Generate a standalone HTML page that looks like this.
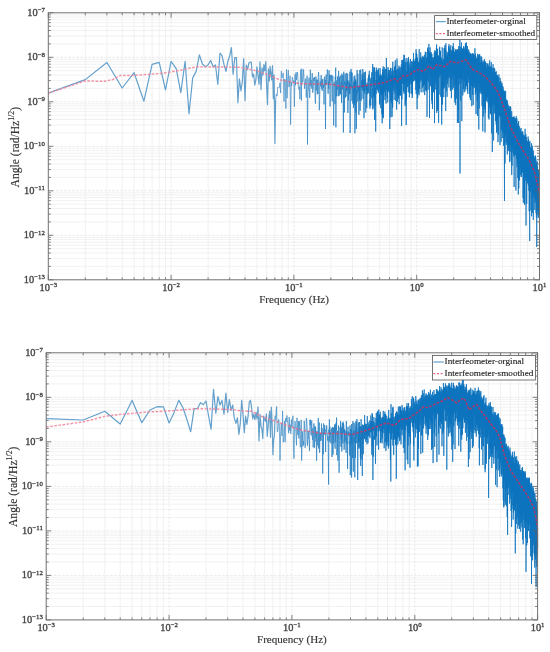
<!DOCTYPE html>
<html><head><meta charset="utf-8"><title>Interferometer spectra</title>
<style>
html,body{margin:0;padding:0;background:#fff;}
body{width:550px;height:652px;overflow:hidden;}
svg{display:block;}
.tk{font-family:"Liberation Serif",serif;font-size:10.4px;fill:#444;stroke:#444;stroke-width:0.35px;}
.sup{font-size:6.8px;}
.al{font-family:"Liberation Serif",serif;font-size:11px;fill:#333;stroke:#333;stroke-width:0.15px;}
.yl{font-size:11.6px;}
.sup2{font-size:7.8px;}
.lt{font-family:"Liberation Serif",serif;font-size:8.4px;fill:#222;stroke:#222;stroke-width:0.12px;}
.bl{fill:none;stroke:#64a0cc;stroke-width:1.2;stroke-linejoin:round;}
.bd{fill:none;stroke-width:0.75;stroke-linejoin:round;}
.rd{fill:none;stroke-opacity:0.9;stroke-width:1.45;stroke-dasharray:2.6 1.5;}
</style></head>
<body>
<svg width="550" height="652" viewBox="0 0 550 652">
<rect width="550" height="652" fill="#fff"/>
<rect x="48.3" y="12.8" width="491.2" height="267" fill="#fff"/>
<path d="M85.3 12.8V279.8M106.9 12.8V279.8M122.2 12.8V279.8M134.1 12.8V279.8M143.9 12.8V279.8M152.1 12.8V279.8M159.2 12.8V279.8M165.5 12.8V279.8M208.1 12.8V279.8M229.7 12.8V279.8M245 12.8V279.8M256.9 12.8V279.8M266.7 12.8V279.8M274.9 12.8V279.8M282 12.8V279.8M288.3 12.8V279.8M330.9 12.8V279.8M352.5 12.8V279.8M367.8 12.8V279.8M379.7 12.8V279.8M389.5 12.8V279.8M397.7 12.8V279.8M404.8 12.8V279.8M411.1 12.8V279.8M453.7 12.8V279.8M475.3 12.8V279.8M490.6 12.8V279.8M502.5 12.8V279.8M512.3 12.8V279.8M520.5 12.8V279.8M527.6 12.8V279.8M533.9 12.8V279.8M48.3 266.4H539.5M48.3 258.6H539.5M48.3 253H539.5M48.3 248.7H539.5M48.3 245.2H539.5M48.3 242.2H539.5M48.3 239.6H539.5M48.3 237.3H539.5M48.3 221.9H539.5M48.3 214.1H539.5M48.3 208.5H539.5M48.3 204.2H539.5M48.3 200.7H539.5M48.3 197.7H539.5M48.3 195.1H539.5M48.3 192.8H539.5M48.3 177.4H539.5M48.3 169.6H539.5M48.3 164H539.5M48.3 159.7H539.5M48.3 156.2H539.5M48.3 153.2H539.5M48.3 150.6H539.5M48.3 148.3H539.5M48.3 132.9H539.5M48.3 125.1H539.5M48.3 119.5H539.5M48.3 115.2H539.5M48.3 111.7H539.5M48.3 108.7H539.5M48.3 106.1H539.5M48.3 103.8H539.5M48.3 88.4H539.5M48.3 80.6H539.5M48.3 75H539.5M48.3 70.7H539.5M48.3 67.2H539.5M48.3 64.2H539.5M48.3 61.6H539.5M48.3 59.3H539.5M48.3 43.9H539.5M48.3 36.1H539.5M48.3 30.5H539.5M48.3 26.2H539.5M48.3 22.7H539.5M48.3 19.7H539.5M48.3 17.1H539.5M48.3 14.8H539.5" stroke="#eeeeee" stroke-width="0.8" fill="none"/>
<path d="M171.1 12.8V279.8M293.9 12.8V279.8M416.7 12.8V279.8M48.3 235.3H539.5M48.3 190.8H539.5M48.3 146.3H539.5M48.3 101.8H539.5M48.3 57.3H539.5" stroke="#e6e6e6" stroke-width="0.9" stroke-dasharray="2.5 1.5" fill="none"/>
<polyline class="bl" points="48.3,93.1 85.3,79.6 106.9,62.5 122.2,88 134.1,72.7 143.9,101.2 152.1,64.4 159.2,62.3 165.5,90 171.1,61.3 176.2,68.7 180.8,92.6 185.1,61.3 189,113.8 192.7,77.9 196.2,71.4 199.4,54.9 202.4,64 205.3,66.8 208.1,65 210.7,60.4 213.1,66.8 215.5,65 217.8,84.3 220,53 222.1,55.8 224.1,65 226,71.4 227.9,61.3 229.7,55.8 231.4,47.5 233.1,74.2 234.8,57.6 236.4,57.6 237.9,102.7 239.4,78.8 240.9,90.8 242.3,81.6 243.7,58.5 245,100.7 246.3,65 247.6,69.6 248.9,63.1 250.1,62.2 251.3,62.2 252.5,77 253.6,74.2 254.8,85.2 255.9,79.7 256.9,66.8 258,75.1 259,84.3 260,61.8 261,89.7 262,67.9 263,75.2 263.9,64.7 264.8,70.8 265.8,61.6 266.7,87.2 267.5,104.7 268.4,68.9 269.3,81 270.1,66.4 270.9,73.5 271.7,79.8 272.5,65.7 273.3,98.8 274.1,74.9 274.9,143.5 275.6,100.1"/>
<linearGradient id="gb0" gradientUnits="userSpaceOnUse" x1="280.3" y1="0" x2="378.3" y2="0"><stop offset="0" stop-color="#4a92c9"/><stop offset="1" stop-color="#0b72bd"/></linearGradient>
<polyline class="bd" stroke="url(#gb0)" points="275.6,100.1 276.4,93.9 277.1,95.9 277.8,87.2 278.6,88 279.3,87.3 280,82.9 280.6,93.1 281.3,71.1 282,78 282.7,74.2 283.3,72.9 284,101.7 284.6,79.2 285.2,79.2 285.9,108.6 286.5,69.3 287.1,98.2 287.7,80 288.3,70.2 288.9,87.1 289.5,85 290,75.8 290.6,124.6 291.2,82.4 291.7,85.9 292.3,77.1 292.8,79.5 293.4,82.3 293.9,80.5 294.4,106.7 295,74.5 295.5,85.3 296,72.3 296.5,80 297,73.5 297.5,72 298,79.7 298.5,88.7 299,89.6 299.5,86.8 299.9,99.2 300.4,75.4 300.9,69.4 301.4,100.6 301.8,68.7 302.3,80.5 302.7,82.3 303.2,77 303.6,69.5 304.1,80.2 304.5,88.6 304.9,83.4 305.4,80 305.8,78.6 306.2,97.4 306.6,92.8 307.1,75.7 307.5,144.5 307.9,92.1 308.3,90.7 308.7,82.3 309.1,77.6 309.5,97.9 309.9,96.8 310.3,69.7 310.7,86 311.1,79.8 311.5,84.4 311.8,88.6 312.2,73.1 312.6,92.7 313,91.7 313.3,89.1 313.7,77.9 314.1,81.4 314.4,77 314.8,81.1 315.2,100.9 315.5,103.7 315.9,76.5 316.2,90.4 316.6,79.6 316.9,81.1 317.3,94.3 317.6,79.7 318,93.9 318.3,75.6 318.6,72 319,79.9 319.3,110.3 319.6,101.6 320,83.6 320.3,81.5 320.6,86.3 320.9,79 321.2,75.1 321.6,88.8 321.9,79.6 322.2,90.8 322.5,81.3 322.8,78.9 323.1,82.4 323.4,87.7 323.7,85 324,104.4 324.4,76.9 324.7,76.6 325,85.5 325.2,79.9 325.5,129 325.8,89.4 326.1,74.6 326.4,84.4 326.7,84.2 327,75.8 327.3,69.5 327.6,73.6 327.8,79.3 328.1,93.8 328.4,81.6 328.7,88.7 329,70.3 329.2,83.2 329.5,74.8 329.8,78.8 330.1,106.4 330.3,76.5 330.6,77.1 330.9,74.8 331.1,80.6 331.4,75 331.7,83.4 331.9,85.2 332.2,101.4 332.4,78.7 332.7,75.7 333,76.8 333.2,93.8 333.5,106.8 333.7,125.6 334,82.1 334.2,82 334.5,82.3 334.7,84.2 335,104.1 335.2,76.9 335.5,79.6 335.7,67.6 335.9,127.4 336.2,80.4 336.4,96.3 336.7,88.6 336.9,86.1 337.1,90 337.4,76.4 337.6,83.9 337.9,83.1 338.1,96.2 338.3,83.8 338.6,70.9 338.8,75.4 339,96.1 339.2,89 339.5,76.9 339.7,94 339.9,90.1 340.1,86.7 340.4,89.4 340.6,94.4 340.8,75.4 341,89.6 341.3,82.2 341.5,102.7 341.7,74.5 341.9,73.5 342.1,77.9 342.3,87.3 342.6,89.3 342.8,75.2 343,94.1 343.2,106.1 343.4,132.4 343.6,73.4 343.8,71.7 344,97.2 344.2,95.6 344.4,112.4 344.7,81.1 344.9,84.9 345.1,73.7 345.3,97.7 345.5,94.8 345.7,88.5 345.9,82.9 346.1,96.5 346.3,72.9 346.5,91.1 346.7,82.2 346.9,88.2 347.1,90 347.3,79.5 347.5,83.8 347.7,73.6 347.9,112.9 348,82 348.2,89 348.4,100.5 348.6,93.8 348.8,80.6 349,83.2 349.2,93.8 349.4,86.5 349.6,83 349.8,93.4 349.9,71.6 350.1,133 350.3,92.9 350.5,83.5 350.7,85.8 350.9,87.4 351,68.9 351.2,82.4 351.4,71.9 351.6,82.2 351.8,91.6 352,101.1 352.1,72.7 352.3,86.9 352.5,85.9 352.7,93.1 352.8,103.6 353,88.1 353.2,86.9 353.4,92.8 353.5,107.9 353.7,81.7 353.9,95.1 354.1,76.6 354.2,105.2 354.4,82 354.6,103.3 354.8,75.5 354.9,133.3 355.1,92.6 355.3,83.2 355.4,91.8 355.6,79.4 355.8,112.6 355.9,90.2 356.1,81.4 356.3,128.9 356.4,90 356.6,95 356.8,93 356.9,89.3 357.1,69.9 357.2,101.7 357.4,89.5 357.6,89 357.7,92.2 357.9,73.8 358.1,88.3 358.2,85.8 358.4,86.9 358.5,89.7 358.7,87 358.9,114.8 359,89.4 359.2,88.8 359.3,100.5 359.5,87.1 359.6,98.8 359.8,70 359.9,86.3 360.1,110.8 360.3,102.4 360.4,90.7 360.6,84.5 360.7,69.5 360.9,73.5 361,80.2 361.2,100.7 361.3,87.2 361.5,83.6 361.6,87.2 361.8,80.2 361.9,88.1 362.1,74.3 362.2,83.9 362.4,87.5 362.5,78.1 362.7,90.6 362.8,69 362.9,96.5 363.1,98.8 363.2,84.8 363.4,79.7 363.5,90 363.7,90.6 363.8,73.2 364,118.2 364.1,98.9 364.2,72 364.4,74.4 364.5,87.2 364.7,93.8 364.8,82.8 365,79 365.1,90.6 365.2,79.6 365.4,86 365.5,71.6 365.7,90.5 365.8,112.6 365.9,99.7 366.1,93.7 366.2,85.9 366.3,87.7 366.5,86.8 366.6,92.8 366.8,108.2 366.9,92.9 367,82.5 367.2,94.5 367.3,88.3 367.4,90.7 367.6,92.4 367.7,84.4 367.8,90.2 368,85.7 368.1,78.2 368.2,80.2 368.4,93.3 368.5,88.2 368.6,86.3 368.8,74.7 368.9,81.1 369,76 369.1,79.1 369.3,70.9 369.4,86.2 369.5,86.3 369.7,105.8 369.8,99.5 369.9,108.6 370.1,108.3 370.2,78.7 370.3,95.7 370.4,89 370.6,84.5 370.7,89.8 370.8,105.4 370.9,87.7 371.1,77.5 371.2,86.8 371.3,86.3 371.4,81 371.6,78.8 371.7,72.2 371.8,98.3 371.9,86.8 372.1,85.2 372.2,85.6 372.3,78.1 372.4,77.3 372.6,76.9 372.7,64 372.8,109.5 372.9,88 373,108 373.2,85.2 373.3,67.3 373.4,85.9 373.5,93.9 373.6,97.2 373.8,77.3 373.9,82.4 374,71.7 374.1,70.2 374.2,95.9 374.4,96.7 374.5,67.4 374.6,119.9 374.7,87.1 374.8,83.9 374.9,78 375.1,71.7 375.2,105.5 375.3,87.8 375.4,90.4 375.5,89.2 375.6,88.6 375.7,131.5 375.9,93.6 376,80 376.1,94.1 376.2,74.1 376.3,67.6 376.4,87 376.5,89.1 376.7,70.8 376.8,88.7 376.9,80.6 377,89.1 377.1,79.8 377.2,71.4 377.3,69.8 377.4,74.8 377.6,77.7 377.7,81 377.8,90.5 377.9,89 378,87.5 378.1,87 378.2,72.2 378.3,93.1 378.4,68.4 378.5,90.9 378.7,83.6 378.8,74.5 379,88.8 379.1,82.5 379.2,76 379.3,83.7 379.4,76.3 379.5,104.5 379.6,94.1 379.7,98.5 379.8,102.3 379.9,76.7 380.1,68.1 380.2,76.2 380.3,92.5 380.4,88 380.5,74.3 380.7,108.2 380.8,82.4 380.9,74.1 381,95 381.1,82.8 381.2,86.4 381.3,91 381.4,75.8 381.5,85.5 381.6,87.4 381.7,95 381.8,87.2 381.9,114.1 382,85.9 382.1,86.2 382.2,123.3 382.3,78.1 382.4,88.7 382.5,116.8 382.6,72.2 382.7,79.3 382.8,69 383.1,113.3 383.2,66.3 383.3,93.2 383.4,118.2 383.5,77.1 383.6,93.5 383.7,75.4 383.8,83.1 383.9,81.5 384,70.4 384.1,73.3 384.2,83.1 384.3,67.3 384.5,89.7 384.6,91.8 384.7,84.4 384.8,81.3 384.9,100.1 385.2,83.2 385.3,87.6 385.4,96 385.5,68.9 385.6,74.9 385.8,74.5 385.9,85.2 386,103.6 386.1,75.9 386.2,89.7 386.3,87.6 386.4,58 386.5,88 386.6,82.2 386.7,69.5 386.9,85.6 387,90.2 387.1,77.8 387.2,97.8 387.3,84.6 387.4,92.5 387.5,84.3 387.6,85.2 387.6,88.9 387.7,102.4 387.9,71.3 388,67.1 388.1,86.5 388.2,73.3 388.3,88.6 388.4,91.6 388.5,69.7 388.6,72.7 388.7,74 388.7,83.1 388.9,72.5 389,72.9 389.2,89.7 389.3,77.6 389.4,92.9 389.6,70.1 389.7,112.4 389.8,129 389.9,81.1 390,82.8 390.3,75.6 390.3,80.9 390.4,100.8 390.6,67.9 390.7,72.4 390.8,68 390.9,117.3 391,82.6 391.1,86.8 391.2,71.3 391.3,84.1 391.4,75.6 391.5,103.2 391.6,82.6 391.7,77.9 391.8,84.4 392,73.6 392.1,85.3 392.1,116.8 392.3,73.4 392.4,68 392.6,94.2 392.6,91.1 392.7,107.5 392.8,61.8 393,85.2 393.1,80.2 393.1,70.6 393.3,83.3 393.4,84 393.5,88.2 393.6,79.8 393.7,90.8 394,76 394.1,99.9 394.1,76.6 394.2,79.5 394.3,70.1 394.4,73.6 394.5,66.7 394.6,83.3 394.7,73 394.8,81.8 395,93.5 395.1,73.8 395.3,60.3 395.3,80.9 395.4,65.4 395.7,100.8 395.7,86 395.8,72.8 395.9,84.4 396.1,82.7 396.1,85.6 396.3,88.9 396.4,69.9 396.4,84.9 396.6,109.6 396.8,75.5 396.8,79.6 396.9,83.5 397,58.6 397.1,63.8 397.1,92.8 397.3,95.8 397.4,69 397.5,101.9 397.6,80.8 397.8,84.4 397.8,84.4 398,90.5 398.1,80.5 398.1,81.9 398.2,87.2 398.3,85.7 398.4,98.7 398.4,88.9 398.5,96.3 398.6,68.8 398.8,87.3 398.9,72.5 399,65.7 399.1,104.2 399.2,67.6 399.5,91.2 399.5,78.1 399.7,71.8 399.8,95.1 399.8,81.4 400,95.4 400.1,79.5 400.1,83.6 400.2,95.5 400.4,67.3 400.5,84 400.6,82.7 400.7,73.5 400.8,95.1 400.9,85.9 400.9,84.4 401,75.9 401.1,79.4 401.2,89.2 401.3,64.5 401.5,73.6 401.6,125.9 401.8,60 401.9,67.4 401.9,99.3 402.2,70.5 402.3,80.4 402.4,82.5 402.5,60.4 402.6,64.7 402.6,71.1 402.8,83.8 402.9,67.5 403,76.3 403.1,64.1 403.2,80.2 403.2,80.1 403.3,59.3 403.5,90.5 403.6,76.1 403.7,91.9 403.8,68 403.9,69.9 403.9,67.5 404,54.7 404.1,93.9 404.2,57.1 404.3,55.2 404.4,83.8 404.6,77.9 404.7,76 404.8,84.8 404.9,62.7 405,64.6 405.1,106 405.3,76.2 405.3,68.8 405.4,63.3 405.6,103.9 405.7,71.9 405.7,61.8 405.8,78.2 405.9,74.8 406,78.9 406.1,58.1 406.2,125.1 406.2,82.9 406.3,82.8 406.4,100.1 406.5,71.5 406.6,82.8 406.7,72.9 406.8,71.3 406.8,82.7 407,72 407,76.4 407.2,80.3 407.3,67.6 407.3,62 407.5,87.2 407.7,64.9 407.7,80.6 407.8,61.7 408,71.3 408,58.1 408.3,92.4 408.3,65.1 408.4,74.1 408.5,57.1 408.7,64.7 408.7,85.7 408.8,61.5 409,81.2 409,63.6 409.3,85.7 409.3,80 409.4,97.3 409.6,69.5 409.6,70.1 409.7,79.4 409.8,93.2 409.9,68.6 410,84.2 410.1,76.2 410.1,78 410.2,66.8 410.4,73.8 410.4,59 410.5,79.1 410.7,65.5 410.7,70.7 410.8,82.6 411,69.1 411.1,78.6 411.1,74.2 411.3,93.7 411.4,90.2 411.4,68.8 411.7,84 411.7,61.1 411.8,63.8 412,84.5 412.1,71.9 412.1,61.7 412.2,98.1 412.4,70.1 412.4,84.4 412.5,95.2 412.6,68.1 412.7,72.5 412.8,77.6 412.9,62.3 413.1,69.5 413.1,68.5 413.3,59.6 413.4,81.5 413.5,74.3 413.5,52.9 413.7,75 413.7,65.6 413.8,68.9 413.9,59.2 414,69 414.1,63.3 414.1,65.7 414.2,61 414.3,80.3 414.4,76.8 414.5,61.7 414.7,75.5 414.8,68 414.9,63.4 415,80.8 415.1,61.7 415.2,79.4 415.2,62.4 415.5,71.2 415.5,61.8 415.6,78.3 415.6,58.2 415.8,72.1 415.8,89.8 416.1,49.1 416.2,94.1 416.3,52.7 416.5,82.6 416.5,58 416.6,78.3 416.8,54.1 416.8,76.2 416.9,74.8 417.1,109.2 417.1,58.6 417.2,64 417.2,63.5 417.4,57.4 417.5,70.9 417.5,59.2 417.7,98.1 417.8,63.8 417.9,91.8 418.1,61.5 418.2,93.5 418.2,73.9 418.4,62 418.5,83.7 418.5,80.3 418.6,83 418.6,64.1 418.8,77.9 418.9,71.2 419.1,95.2 419.2,49.2 419.3,72.4 419.3,63 419.4,80.2 419.6,69.2 419.6,88.8 419.9,67.3 419.9,58.8 420.2,80.5 420.3,78.2 420.5,57.4 420.6,65.7 420.6,60.3 420.7,52.4 420.9,81.6 420.9,77.7 421,61.6 421.1,92.3 421.2,75 421.3,65.4 421.4,59.9 421.6,75 421.6,79.4 421.8,57.6 421.9,72.4 422,64.6 422.1,76 422.3,58.2 422.3,71.5 422.4,55.9 422.6,87.9 422.6,79.5 422.6,64.4 422.8,85.8 422.9,82.8 423,71.8 423.1,92.3 423.1,63.2 423.3,72.3 423.3,86.2 423.5,56.7 423.6,77.3 423.6,68.7 423.8,57.8 423.9,85 424,59.2 424,76.2 424.1,84.2 424.2,64.4 424.3,76.9 424.3,59.8 424.4,54.8 424.6,73.5 424.7,68.7 424.7,95.1 424.8,63.9 425,67.9 425,83.4 425.2,61.6 425.3,67.4 425.3,51.8 425.5,90.5 425.7,77.1 425.7,78.8 425.9,88.9 426,52 426,63 426.2,84.6 426.3,67.7 426.4,67.4 426.5,91.3 426.6,58.4 426.7,73.9 426.7,81.4 426.9,57.1 427,82.5 427,116.8 427.3,59.6 427.3,62.5 427.4,76.2 427.5,79.5 427.7,47.6 427.7,65.1 427.7,57.2 427.8,77.9 428,48.6 428,66.6 428.1,79.3 428.1,89.8 428.3,56.5 428.4,68.9 428.4,70.1 428.6,55.7 428.7,82 428.7,73.8 428.8,57.1 428.9,43.9 429,71.3 429.1,63.2 429.1,51.2 429.2,68.2 429.4,52.9 429.4,73.8 429.5,117.9 429.7,55 429.7,62.9 429.8,53.3 429.9,86.6 430.1,47.3 430.1,64.4 430.2,71.2 430.4,52.8 430.4,75.7 430.6,56.2 430.7,85.8 430.8,64.2 430.8,55.3 430.9,71.6 431.1,51.9 431.1,81.6 431.4,53.7 431.4,55.4 431.5,73.2 431.6,57.5 431.7,91.5 431.8,78.1 431.8,100.7 431.9,54 432.1,104.1 432.1,76.8 432.1,73.1 432.3,62 432.5,65.9 432.5,109 432.5,59.6 432.8,62.3 432.8,61.4 432.9,57.3 433,82.2 433.1,70.6 433.2,77.9 433.3,78.3 433.3,58.6 433.5,76.8 433.5,75.9 433.6,58.1 433.6,91.9 433.8,73.4 433.9,57.2 434.1,92.9 434.1,59.7 434.2,76.6 434.2,88.3 434.3,52.2 434.5,62.6 434.5,123.1 434.8,50.3 434.8,74.4 434.9,59.1 435.1,81.8 435.2,57.3 435.2,88.6 435.3,89.5 435.3,53.7 435.5,74.4 435.6,66.9 435.6,51.4 435.7,77.6 435.8,61 435.9,68.6 436,68.7 436.1,54.7 436.2,55.3 436.2,85.2 436.4,47.9 436.6,74.4 436.6,44.5 436.7,112.9 436.9,48.6 436.9,60.3 437,100.5 437.1,60.1 437.2,69 437.2,71.6 437.3,110.9 437.4,49.1 437.6,51.6 437.6,66.6 437.7,55.2 437.8,109.1 437.9,67.9 437.9,75.6 438.2,81 438.2,56.8 438.3,77.5 438.3,60.4 438.4,78.4 438.6,56.1 438.6,122.1 438.6,122.8 438.7,56.2 438.9,59 439,72 439,55.2 439.1,94.5 439.3,67.7 439.3,76.7 439.4,48 439.6,59.9 439.6,51 439.7,46.7 439.8,71.8 439.9,61.2 440,53.4 440.1,75.4 440.3,50.8 440.3,66.4 440.3,51.4 440.5,71.1 440.6,61.1 440.7,96.8 440.9,60.6 441,75.1 441,68.4 441.1,57.2 441.2,69 441.3,66.6 441.3,60.7 441.6,111.2 441.6,66.1 441.7,124.6 441.8,58.4 442,64 442,82 442.2,47.3 442.2,95.9 442.3,66.2 442.4,64 442.5,60 442.5,104.4 442.7,88.7 442.7,80.7 442.8,63.4 443,85.5 443,79.5 443.1,61 443.1,87.7 443.3,65.6 443.4,80.8 443.4,88.7 443.5,61.2 443.7,79.7 443.7,71 443.8,58.9 443.8,97.1 444,59.5 444,48.2 444.3,88.2 444.4,62.3 444.4,58 444.4,73.9 444.7,48.7 444.7,71.4 444.7,68.1 444.9,45.2 445,86 445,77.5 445.1,76 445.1,48.3 445.3,76.4 445.4,57.7 445.4,60.3 445.7,54.2 445.7,111 445.7,62.9 445.7,75 445.9,43.3 446,79.6 446.1,61.5 446.1,50.6 446.3,91.2 446.4,76.6 446.4,60.8 446.7,75.9 446.7,56.4 446.8,71.5 446.8,55.3 447.1,96.8 447.1,62.8 447.2,75.5 447.4,55.5 447.4,56.8 447.5,72.6 447.6,54.5 447.6,84.1 447.8,59.5 447.8,55.6 447.8,51.9 447.9,80.8 448.1,67.6 448.1,53.3 448.2,76.6 448.4,66.2 448.5,52.3 448.5,74.7 448.6,46.1 448.8,63.4 448.8,69.9 448.9,87.5 449,44.1 449.1,52 449.2,77.4 449.4,47.4 449.5,64.1 449.5,62.8 449.5,54.9 449.6,69.9 449.8,66.4 449.8,55.1 449.9,49.6 450.1,78.7 450.1,61.9 450.2,62.8 450.4,91 450.5,49.5 450.5,54.3 450.5,88.4 450.8,45.2 450.8,61 450.8,60.2 450.9,84 451.1,54.4 451.2,71.9 451.2,75.1 451.2,50.6 451.4,98.2 451.5,60.5 451.5,58.3 451.6,56.1 451.7,78.5 451.8,72 451.9,57.8 451.9,50.1 452.1,72 452.2,62.3 452.2,66 452.4,74.8 452.5,46.5 452.6,64.1 452.7,89.7 452.8,49.5 452.9,60.1 452.9,61.1 452.9,50.2 453,78.3 453.2,66.3 453.2,72.2 453.3,43.2 453.3,87.8 453.6,64.3 453.6,65.8 453.6,74.4 453.8,47.7 453.9,65.4 453.9,66.4 454.1,85.4 454.1,51.7 454.2,62.7 454.2,54.6 454.4,51.7 454.5,74.4 454.6,63.2 454.6,58.7 454.7,53.1 454.9,102.6 454.9,58 455.1,99.4 455.2,51.8 455.2,75.9 455.3,72.6 455.5,49.4 455.6,64.9 455.6,76.3 455.7,105.1 455.9,51.9 455.9,78.2 456,62.8 456.1,49.7 456.2,84.7 456.3,64.1 456.3,59.6 456.5,89.7 456.5,51.5 456.6,67.6 456.6,98.7 456.7,50.7 456.9,65.2 457,69.2 457.1,49.4 457.3,72.4 457.3,67.9 457.4,123 457.5,49.1 457.6,61.7 457.6,59.6 457.7,77.4 457.9,50.3 458,58.9 458,60.9 458.2,51.6 458.3,110 458.3,73 458.3,60.1 458.4,123 458.6,51 458.7,57 458.7,46 458.7,75.4 459,62.1 459,50.6 459.1,84.3 459.2,49.6 459.3,70.4 459.4,52.6 459.5,77.8 459.7,66.4 459.7,45.1 459.9,40 460,173.5 460,53.3 460,59.6 460.2,47.1 460.3,77.6 460.3,75.3 460.4,79.4 460.6,52.4 460.7,100.4 460.7,55.6 460.9,46.8 461,76.1 461,65.8 461.1,52.9 461.2,83 461.4,51 461.4,61.7 461.4,42.5 461.5,79.3 461.7,62.9 461.7,57.3 461.8,121.2 461.9,49.4 462,75 462.1,63.1 462.1,79.2 462.3,52.2 462.4,56.4 462.4,61.9 462.5,66.4 462.6,48.4 462.7,61.6 462.7,65.2 462.8,95.4 462.9,49.2 463.1,68.2 463.1,60.5 463.4,48.6 463.4,71.7 463.4,66.9 463.4,85.9 463.5,89.1 463.7,46.3 463.7,65.7 463.8,46.4 464.1,92.4 464.1,75.7 464.3,50.6 464.4,64.6 464.4,63 464.6,81.6 464.7,48.5 464.8,54.4 464.8,57.4 464.9,54.7 464.9,91.6 465.1,63 465.1,60.8 465.4,70.1 465.4,43.1 465.5,50.8 465.7,86.8 465.7,46.4 465.8,53.8 465.8,51.5 465.8,89.4 466,44.1 466.1,69.1 466.2,57.4 466.2,83.7 466.4,42.4 466.5,62.5 466.5,64.9 466.5,49.2 466.5,86.1 466.8,63.1 466.8,66.2 466.9,49 467.1,70.9 467.1,62.1 467.2,71 467.4,46 467.4,90.8 467.5,55.4 467.5,50.1 467.8,94 467.8,68.9 468,76.6 468.1,51.9 468.2,64.3 468.2,65.8 468.3,74.5 468.3,51.6 468.5,60.2 468.5,64.7 468.7,49.4 468.8,82.6 468.9,72.2 468.9,55.3 468.9,79 469.2,69.6 469.2,63.1 469.3,51.8 469.5,93.5 469.5,72.2 469.6,67.8 469.7,53.2 469.9,97.5 469.9,82.3 470,55.6 470.2,90.1 470.2,64 470.2,60.3 470.4,100.2 470.5,54 470.6,68 470.6,65.2 470.7,85.6 470.8,53.2 470.9,74.3 470.9,62.6 471,85.1 471.2,56.1 471.2,69.6 471.2,75.4 471.4,86.1 471.6,54.4 471.6,67.8 471.8,106.2 471.8,56.6 471.9,72.2 471.9,70.5 472.2,53.8 472.3,86.2 472.3,62.5 472.3,61.5 472.6,82.8 472.6,62.9 472.6,94.7 472.7,53 472.9,77.5 472.9,64.2 473.2,105 473.2,55.5 473.3,77.8 473.3,61 473.4,81.8 473.5,53.8 473.6,64.3 473.6,81.6 473.7,87.4 473.8,55 474,83 474,72.1 474.1,55.1 474.2,78.6 474.3,61.7 474.3,69.5 474.4,87.7 474.6,58.7 474.6,66.4 474.6,57.1 474.7,80.4 474.9,48.3 475,74.4 475,68.1 475.2,83.8 475.3,57.2 475.3,71 475.3,94.7 475.4,53.7 475.6,59.8 475.7,92.9 475.8,56.3 476,59.8 476,76.4 476,114.1 476.1,61.6 476.3,61.6 476.3,67 476.5,58.2 476.7,90.5 476.7,73.2 476.8,89.6 477,62.5 477,72.2 477,81.9 477.2,101.1 477.3,58.8 477.3,76.2 477.4,68.2 477.5,115.9 477.6,53.8 477.7,73 477.7,75.7 477.8,96.5 477.8,58.7 478,83 478,73.4 478.1,80.5 478.3,57.7 478.4,62.6 478.4,72.6 478.6,54.7 478.7,81.7 478.7,73.2 478.7,93.5 478.8,129.5 478.8,55 479,64.5 479.1,75.6 479.2,108.5 479.2,62.1 479.4,86.1 479.4,81.3 479.7,92.8 479.7,54 479.7,67.9 479.8,76.1 480,63.2 480,86.2 480.1,68.2 480.1,88.6 480.1,56.3 480.4,70.7 480.4,76.9 480.6,61.7 480.6,92.2 480.8,71.7 480.8,67.1 480.9,63.3 481,94.1 481.1,67.6 481.1,64.2 481.2,89.1 481.3,56.4 481.4,78.8 481.4,65.3 481.7,57.2 481.7,93.1 481.8,68.4 481.8,64 482,60.2 482.1,106.2 482.1,65.9 482.1,74.9 482.4,62.4 482.4,83.1 482.5,91.4 482.6,62.4 482.8,131.3 482.8,71.5 482.8,82.1 482.9,63.4 483,94.6 483.1,76.3 483.1,82 483.3,116.5 483.4,63.1 483.5,69.6 483.5,69.2 483.6,60.8 483.7,89.8 483.8,79.5 483.8,75 484,107.3 484,68.5 484.1,74.8 484.2,83 484.4,95.8 484.4,59 484.5,66.4 484.5,80.4 484.7,109 484.8,61.3 484.8,76.3 484.9,83.6 484.9,61.9 485,132.4 485.2,73.1 485.2,89.5 485.4,112.9 485.5,61.8 485.5,66.5 485.5,80.4 485.5,99.8 485.6,62.9 485.9,86.8 485.9,68 485.9,91.6 486.2,67.4 486.2,81.8 486.2,83.1 486.2,62.9 486.4,100.9 486.5,80.3 486.5,79.2 486.6,97.1 486.8,67.9 486.9,80 486.9,81.9 487.1,97.6 487.1,68.5 487.2,89.4 487.2,81.4 487.3,102.3 487.6,64.6 487.6,82.8 487.6,96.9 487.8,64.4 487.9,87.7 487.9,80.4 487.9,63.2 488.2,98.7 488.2,71.8 488.2,73.4 488.3,68 488.4,117.9 488.6,80.9 488.6,81.1 488.6,66 488.8,94.4 488.9,70.4 488.9,92.2 489,119.5 489.2,67 489.3,75.3 489.3,93.7 489.3,72.1 489.6,105.6 489.6,87.1 489.6,79.7 489.7,60.3 489.9,102.8 489.9,85.5 489.9,107.9 490.1,68.4 490.2,113 490.3,85.8 490.3,81.8 490.5,66 490.5,114.1 490.6,79.9 490.6,78.4 490.7,104 490.8,68.7 491,74.1 491,87.2 491,106.8 491.3,62.1 491.3,78.1 491.3,88.3 491.3,67.5 491.4,114.8 491.6,82.8 491.6,133.4 491.9,72.8 492,73 492,86.4 492.3,67.7 492.3,152 492.3,83.8 492.3,84.6 492.4,72 492.4,103.2 492.6,79.5 492.7,95.1 492.7,71.9 492.8,106.6 493,90.9 493,76 493.1,64.2 493.2,104.7 493.3,75.8 493.3,93.1 493.4,68.6 493.6,140.5 493.7,92 493.7,80.4 494,71.7 494,103 494,83.8 494.2,112.8 494.4,67.9 494.4,92.8 494.5,104.8 494.7,68.9 494.7,87.6 495,71.7 495,113.8 495,87.2 495,88.3 495.2,74.4 495.3,98 495.4,88.7 495.4,82.8 495.5,72.4 495.7,121.2 495.7,87.9 495.7,92 495.7,77 495.8,120.5 496.1,93.2 496.1,86.1 496.2,124.5 496.3,71.3 496.4,107.8 496.4,80 496.6,78.3 496.6,132.9 496.7,90.7 496.7,104.1 496.8,75.8 497,119.6 497.1,97 497.1,90.7 497.1,131.2 497.2,75 497.4,86.5 497.4,81.4 497.4,74.9 497.6,118.9 497.7,91.9 497.8,100.3 498,142.2 498,77.7 498.1,92.2 498.1,82.8 498.3,134.9 498.4,79.4 498.4,91.3 498.4,84.4 498.7,77 498.8,109.4 498.8,96.4 498.8,94.7 498.9,74.3 499,114.7 499.1,91.8 499.1,96.7 499.1,82.5 499.3,112.8 499.4,88.1 499.5,116.5 499.5,82.1 499.8,99.9 499.8,95 500,145.2 500.1,77.9 500.1,92.8 500.4,84.7 500.4,104.4 500.5,94.7 500.5,101 500.6,117.6 500.7,81.5 500.8,91.6 500.8,98.7 500.9,81 501.1,141.8 501.2,85.7 501.2,91.9 501.2,130.6 501.3,88 501.5,92 501.5,109.1 501.5,84.5 501.7,128.4 501.8,89.5 501.8,102.5 502,83 502.1,123.7 502.2,105.6 502.2,106.2 502.3,138.1 502.4,88.3 502.5,95.7 502.5,102.3 502.6,133.4 502.7,85.9 502.9,109.5 502.9,105.2 502.9,123 503.1,87.3 503.2,106.5 503.2,91.5 503.3,130.1 503.5,108.2 503.5,99.2 503.6,145.8 503.8,90.1 503.9,104.7 503.9,116.8 504.1,91.2 504.1,138.2 504.2,109.7 504.2,108.8 504.5,201 504.5,92.8 504.6,107.6 504.6,144 504.6,97.6 504.9,100.1 504.9,110.6 505,90.9 505,163.5 505.2,112.4 505.2,111 505.3,133.1 505.5,99.3 505.6,113.7 505.6,118.3 505.6,91.1 505.8,134.8 505.9,114.2 505.9,116.1 506,142 506.2,99.3 506.3,110.5 506.3,107.2 506.3,144.9 506.5,101.3 506.6,110.1 506.6,108.9 506.7,133.6 506.7,100.9 506.9,105.5 506.9,128.1 507.2,104.3 507.3,142.1 507.3,115.9 507.3,119.9 507.3,100.4 507.3,154.5 507.6,120.2 507.6,134.2 507.7,103.5 507.8,148.8 508,120 508,131.3 508.2,105 508.2,145 508.3,121.9 508.3,114.6 508.4,130.4 508.6,107.3 508.6,125.8 508.6,123.9 508.7,108.1 508.7,151.1 509,119 509,124.7 509.2,150.4 509.3,106 509.3,137.8 509.3,129.4 509.3,109.4 509.6,162.1 509.7,123.6 509.7,125 509.7,146.8 509.8,109.3 510,128.6 510,125.9 510.3,113.4 510.3,145.9 510.3,132 510.3,126.2 510.4,106.6 510.5,143.4 510.7,129.2 510.7,123.6 510.7,106.9 510.8,151.8 511,117.3 511,133 511.1,161.3 511.2,116.3 511.4,129.2 511.4,124.3 511.5,116.8 511.7,174.9 511.7,132.3 511.7,122 511.7,153.2 511.7,111.2 512,136.4 512,129.5 512.1,165.7 512.1,117.4 512.4,136.8 512.4,135.6 512.5,148.3 512.7,117.2 512.7,117.5 512.7,134.5 512.9,151.5 512.9,117 513.1,141.3 513.1,123.8 513.3,117.6 513.4,153.1 513.4,138.6 513.4,137.4 513.5,117.6 513.5,154.5 513.7,120.3 513.7,135.7 514,116.3 514,156.9 514.1,150.9 514.1,130 514.1,187 514.3,117.6 514.4,122.9 514.4,130.5 514.6,118.6 514.7,155.1 514.8,141.2 514.8,138.2 514.9,119 514.9,150.1 515.1,136.6 515.1,137.8 515.2,154.9 515.4,119.6 515.4,135.4 515.4,141.1 515.6,154.8 515.7,117.9 515.8,132.7 515.8,147.5 515.8,121.3 515.9,190.5 516.1,127.9 516.1,131.8 516.3,116.2 516.4,148.2 516.5,141.8 516.5,135.5 516.5,158.7 516.6,120.4 516.8,147 516.8,128.5 516.9,118.4 517.1,167.4 517.1,149.7 517.1,151 517.2,125.9 517.4,163.9 517.5,145.7 517.5,133.2 517.7,123.2 517.8,178.2 517.8,130.7 517.8,137.7 517.9,160.4 517.9,125.5 518.2,132.8 518.2,142.3 518.2,125.9 518.3,194.5 518.5,145 518.5,150.5 518.6,121 518.8,188.4 518.8,153.8 518.8,146.3 518.9,172.1 519.1,125.9 519.2,154.7 519.2,146.1 519.3,130.6 519.5,180.4 519.5,148.7 519.5,146 519.5,170.2 519.7,127.5 519.9,152 519.9,138.2 519.9,130.1 519.9,167.6 520.2,142.7 520.2,149.5 520.4,168 520.5,129.5 520.5,146.5 520.5,146.4 520.6,132.9 520.7,174.9 520.9,147.2 520.9,136.9 521.1,128 521.2,177 521.2,141.5 521.3,176.6 521.5,132.4 521.6,171.6 521.6,154.6 521.7,169.9 521.7,136 521.9,153.9 521.9,160.5 521.9,133.7 522.2,168.6 522.2,145.2 522.2,156.4 522.3,131.4 522.5,172.4 522.6,155.5 522.6,154.1 522.8,131.5 522.9,172.2 522.9,144.3 522.9,165.3 523,134.4 523.1,197.9 523.3,145.8 523.3,178.3 523.3,202.7 523.5,135.4 523.6,147.2 523.6,139 523.7,137.2 523.9,192.8 523.9,161.2 523.9,164.5 524,138.7 524.2,173.8 524.3,141 524.3,154.8 524.4,135.5 524.4,204.3 524.6,153.2 524.6,157.3 524.7,204.6 524.8,140 525,150.5 525,159.9 525.1,128.8 525.3,172.5 525.3,143.5 525.3,159.9 525.4,136.6 525.6,177.9 525.6,150.5 525.6,145.5 525.8,181 525.8,134 526,158 526,154.2 526,140.2 526,225.6 526.3,158.8 526.3,145 526.4,137 526.5,178 526.7,159.3 526.7,153.4 526.7,203.8 526.8,141.5 527,162.9 527,151.6 527.1,140.8 527.3,180.2 527.3,143.3 527.4,183.4 527.5,141.8 527.7,156.6 527.7,167.1 527.7,180.5 527.9,143.8 528,162.2 528,176 528.1,179.9 528.1,136.5 528.4,155.3 528.4,161.1 528.4,185.6 528.5,139.2 528.7,153.4 528.7,161.7 528.9,150.8 528.9,190.8 529,167.7 529,168.8 529.1,143.7 529.2,211.3 529.4,173.4 529.4,156.4 529.4,142.2 529.7,241 529.7,165.4 529.7,158.7 529.8,189.6 529.9,140.8 530.1,170.2 530.1,151.7 530.3,147.4 530.4,187.8 530.4,158.3 530.4,158.5 530.4,192.1 530.4,148 530.7,167.7 530.7,180.4 530.9,210.7 531,147.8 531.1,165.9 531.1,169.6 531.2,147.9 531.4,189.7 531.4,150.2 531.4,158.9 531.6,143.3 531.6,216.3 531.8,189.1 531.8,177 531.8,189.6 531.9,148.4 532.1,169.7 532.1,172.8 532.3,145.8 532.3,198.6 532.4,162.4 532.4,169.1 532.6,154.1 532.6,213 532.8,158.5 532.8,172.5 532.8,194.5 533.1,150.5 533.1,173 533.1,172.7 533.1,150.7 533.3,219.9 533.5,177.3 533.5,165.6 533.6,155.2 533.7,193.8 533.8,157.7 533.8,164.9 533.8,159.8 534,184.5 534.1,170.1 534.1,171.8 534.2,197.3 534.3,160.1 534.5,193.7 534.5,161.9 534.7,158 534.8,210 534.8,163.4 534.9,156.3 535.1,202.8 535.2,174.6 535.2,178.7 535.2,196.6 535.4,155.5 535.5,179.5 535.5,195.1 535.6,199.9 535.7,157.4 535.8,179.6 535.8,186.3 535.9,159.8 536.1,213.2 536.2,179.7 536.2,175.8 536.2,163.2 536.4,217.7 536.5,187.7 536.5,174.2 536.6,162.4 536.7,247 536.9,190.6 536.9,185.2 537.1,210.4 537.2,161.4 537.2,182.5 537.2,186.2 537.4,205.7 537.5,166 537.5,189.6 537.5,183.1 537.9,172.3 537.9,214.5 537.9,192.2 537.9,181.5 538.1,170.3 538.2,207.2 538.2,180.9 538.2,182.2 538.2,218 538.3,173.3 538.6,196.9 538.6,210.4 538.6,170.2 538.9,216.7 538.9,191.3 538.9,181 538.9,174.9 539.2,214.4 539.2,193.1 539.2,193.7 539.3,178.3 539.3,214.1 539.5,184.9"/>
<linearGradient id="gr0" gradientUnits="userSpaceOnUse" x1="258.3" y1="0" x2="368.3" y2="0"><stop offset="0" stop-color="#f0889e"/><stop offset="1" stop-color="#c8305e"/></linearGradient>
<polyline class="rd" stroke="url(#gr0)" points="48.3,93.1 85,81 104.5,81.3 113,79.5 120.5,75.5 134,75.4 160,73.5 171,72 197,66.8 239,67.2 259.5,71.4 280,79.8 299.8,83.7 330,84.2 349.3,87.7 366,85.5 385,82.5 395,78.7 397.8,81.4 402.4,75.9 407,75.9 411.6,73.1 418,69.5 422.6,71.3 427.2,68.5 429,65.8 432.8,69.5 436.4,64.9 441,65.8 444.7,66.7 450.7,61.4 456.8,63 461.4,61.4 466,59.9 469.1,64.5 472.1,69.1 478.3,72.2 484.4,76 490.6,82.1 496.7,89.8 499.8,96 504.5,109 510.7,127.5 516.8,139.8 523,150.5 529,159.7 534.6,172 537.7,185.8 539.5,193"/>
<path d="M48.3 279.8v-4.9M48.3 12.8v4.9M85.3 279.8v-2.5M85.3 12.8v2.5M106.9 279.8v-2.5M106.9 12.8v2.5M122.2 279.8v-2.5M122.2 12.8v2.5M134.1 279.8v-2.5M134.1 12.8v2.5M143.9 279.8v-2.5M143.9 12.8v2.5M152.1 279.8v-2.5M152.1 12.8v2.5M159.2 279.8v-2.5M159.2 12.8v2.5M165.5 279.8v-2.5M165.5 12.8v2.5M171.1 279.8v-4.9M171.1 12.8v4.9M208.1 279.8v-2.5M208.1 12.8v2.5M229.7 279.8v-2.5M229.7 12.8v2.5M245 279.8v-2.5M245 12.8v2.5M256.9 279.8v-2.5M256.9 12.8v2.5M266.7 279.8v-2.5M266.7 12.8v2.5M274.9 279.8v-2.5M274.9 12.8v2.5M282 279.8v-2.5M282 12.8v2.5M288.3 279.8v-2.5M288.3 12.8v2.5M293.9 279.8v-4.9M293.9 12.8v4.9M330.9 279.8v-2.5M330.9 12.8v2.5M352.5 279.8v-2.5M352.5 12.8v2.5M367.8 279.8v-2.5M367.8 12.8v2.5M379.7 279.8v-2.5M379.7 12.8v2.5M389.5 279.8v-2.5M389.5 12.8v2.5M397.7 279.8v-2.5M397.7 12.8v2.5M404.8 279.8v-2.5M404.8 12.8v2.5M411.1 279.8v-2.5M411.1 12.8v2.5M416.7 279.8v-4.9M416.7 12.8v4.9M453.7 279.8v-2.5M453.7 12.8v2.5M475.3 279.8v-2.5M475.3 12.8v2.5M490.6 279.8v-2.5M490.6 12.8v2.5M502.5 279.8v-2.5M502.5 12.8v2.5M512.3 279.8v-2.5M512.3 12.8v2.5M520.5 279.8v-2.5M520.5 12.8v2.5M527.6 279.8v-2.5M527.6 12.8v2.5M533.9 279.8v-2.5M533.9 12.8v2.5M539.5 279.8v-4.9M539.5 12.8v4.9M48.3 279.8h4.9M539.5 279.8h-4.9M48.3 266.4h2.5M539.5 266.4h-2.5M48.3 258.6h2.5M539.5 258.6h-2.5M48.3 253h2.5M539.5 253h-2.5M48.3 248.7h2.5M539.5 248.7h-2.5M48.3 245.2h2.5M539.5 245.2h-2.5M48.3 242.2h2.5M539.5 242.2h-2.5M48.3 239.6h2.5M539.5 239.6h-2.5M48.3 237.3h2.5M539.5 237.3h-2.5M48.3 235.3h4.9M539.5 235.3h-4.9M48.3 221.9h2.5M539.5 221.9h-2.5M48.3 214.1h2.5M539.5 214.1h-2.5M48.3 208.5h2.5M539.5 208.5h-2.5M48.3 204.2h2.5M539.5 204.2h-2.5M48.3 200.7h2.5M539.5 200.7h-2.5M48.3 197.7h2.5M539.5 197.7h-2.5M48.3 195.1h2.5M539.5 195.1h-2.5M48.3 192.8h2.5M539.5 192.8h-2.5M48.3 190.8h4.9M539.5 190.8h-4.9M48.3 177.4h2.5M539.5 177.4h-2.5M48.3 169.6h2.5M539.5 169.6h-2.5M48.3 164h2.5M539.5 164h-2.5M48.3 159.7h2.5M539.5 159.7h-2.5M48.3 156.2h2.5M539.5 156.2h-2.5M48.3 153.2h2.5M539.5 153.2h-2.5M48.3 150.6h2.5M539.5 150.6h-2.5M48.3 148.3h2.5M539.5 148.3h-2.5M48.3 146.3h4.9M539.5 146.3h-4.9M48.3 132.9h2.5M539.5 132.9h-2.5M48.3 125.1h2.5M539.5 125.1h-2.5M48.3 119.5h2.5M539.5 119.5h-2.5M48.3 115.2h2.5M539.5 115.2h-2.5M48.3 111.7h2.5M539.5 111.7h-2.5M48.3 108.7h2.5M539.5 108.7h-2.5M48.3 106.1h2.5M539.5 106.1h-2.5M48.3 103.8h2.5M539.5 103.8h-2.5M48.3 101.8h4.9M539.5 101.8h-4.9M48.3 88.4h2.5M539.5 88.4h-2.5M48.3 80.6h2.5M539.5 80.6h-2.5M48.3 75h2.5M539.5 75h-2.5M48.3 70.7h2.5M539.5 70.7h-2.5M48.3 67.2h2.5M539.5 67.2h-2.5M48.3 64.2h2.5M539.5 64.2h-2.5M48.3 61.6h2.5M539.5 61.6h-2.5M48.3 59.3h2.5M539.5 59.3h-2.5M48.3 57.3h4.9M539.5 57.3h-4.9M48.3 43.9h2.5M539.5 43.9h-2.5M48.3 36.1h2.5M539.5 36.1h-2.5M48.3 30.5h2.5M539.5 30.5h-2.5M48.3 26.2h2.5M539.5 26.2h-2.5M48.3 22.7h2.5M539.5 22.7h-2.5M48.3 19.7h2.5M539.5 19.7h-2.5M48.3 17.1h2.5M539.5 17.1h-2.5M48.3 14.8h2.5M539.5 14.8h-2.5M48.3 12.8h4.9M539.5 12.8h-4.9" stroke="#606060" stroke-width="0.8" fill="none"/>
<rect x="48.3" y="12.8" width="491.2" height="267" fill="none" stroke="#707070" stroke-width="1"/>
<text x="48.3" y="290.6" text-anchor="middle" class="tk">10<tspan class="sup" dy="-3.4">&#8722;3</tspan></text>
<text x="171.1" y="290.6" text-anchor="middle" class="tk">10<tspan class="sup" dy="-3.4">&#8722;2</tspan></text>
<text x="293.9" y="290.6" text-anchor="middle" class="tk">10<tspan class="sup" dy="-3.4">&#8722;1</tspan></text>
<text x="416.7" y="290.6" text-anchor="middle" class="tk">10<tspan class="sup" dy="-3.4">0</tspan></text>
<text x="539.5" y="290.6" text-anchor="middle" class="tk">10<tspan class="sup" dy="-3.4">1</tspan></text>
<text x="44.9" y="282.5" text-anchor="end" class="tk">10<tspan class="sup" dy="-3.4">&#8722;13</tspan></text>
<text x="44.9" y="238" text-anchor="end" class="tk">10<tspan class="sup" dy="-3.4">&#8722;12</tspan></text>
<text x="44.9" y="193.5" text-anchor="end" class="tk">10<tspan class="sup" dy="-3.4">&#8722;11</tspan></text>
<text x="44.9" y="149" text-anchor="end" class="tk">10<tspan class="sup" dy="-3.4">&#8722;10</tspan></text>
<text x="44.9" y="104.5" text-anchor="end" class="tk">10<tspan class="sup" dy="-3.4">&#8722;9</tspan></text>
<text x="44.9" y="60" text-anchor="end" class="tk">10<tspan class="sup" dy="-3.4">&#8722;8</tspan></text>
<text x="44.9" y="15.5" text-anchor="end" class="tk">10<tspan class="sup" dy="-3.4">&#8722;7</tspan></text>
<rect x="46.2" y="352.8" width="491.4" height="267.1" fill="#fff"/>
<path d="M83.2 352.8V619.9M104.8 352.8V619.9M120.2 352.8V619.9M132.1 352.8V619.9M141.8 352.8V619.9M150 352.8V619.9M157.1 352.8V619.9M163.4 352.8V619.9M206 352.8V619.9M227.7 352.8V619.9M243 352.8V619.9M254.9 352.8V619.9M264.6 352.8V619.9M272.9 352.8V619.9M280 352.8V619.9M286.3 352.8V619.9M328.9 352.8V619.9M350.5 352.8V619.9M365.9 352.8V619.9M377.8 352.8V619.9M387.5 352.8V619.9M395.7 352.8V619.9M402.8 352.8V619.9M409.1 352.8V619.9M451.7 352.8V619.9M473.4 352.8V619.9M488.7 352.8V619.9M500.6 352.8V619.9M510.3 352.8V619.9M518.6 352.8V619.9M525.7 352.8V619.9M532 352.8V619.9M46.2 606.5H537.6M46.2 598.7H537.6M46.2 593.1H537.6M46.2 588.8H537.6M46.2 585.3H537.6M46.2 582.3H537.6M46.2 579.7H537.6M46.2 577.4H537.6M46.2 562H537.6M46.2 554.1H537.6M46.2 548.6H537.6M46.2 544.3H537.6M46.2 540.7H537.6M46.2 537.8H537.6M46.2 535.2H537.6M46.2 532.9H537.6M46.2 517.5H537.6M46.2 509.6H537.6M46.2 504.1H537.6M46.2 499.8H537.6M46.2 496.2H537.6M46.2 493.2H537.6M46.2 490.7H537.6M46.2 488.4H537.6M46.2 472.9H537.6M46.2 465.1H537.6M46.2 459.5H537.6M46.2 455.2H537.6M46.2 451.7H537.6M46.2 448.7H537.6M46.2 446.1H537.6M46.2 443.9H537.6M46.2 428.4H537.6M46.2 420.6H537.6M46.2 415H537.6M46.2 410.7H537.6M46.2 407.2H537.6M46.2 404.2H537.6M46.2 401.6H537.6M46.2 399.4H537.6M46.2 383.9H537.6M46.2 376.1H537.6M46.2 370.5H537.6M46.2 366.2H537.6M46.2 362.7H537.6M46.2 359.7H537.6M46.2 357.1H537.6M46.2 354.8H537.6" stroke="#eeeeee" stroke-width="0.8" fill="none"/>
<path d="M169.1 352.8V619.9M291.9 352.8V619.9M414.8 352.8V619.9M46.2 575.4H537.6M46.2 530.9H537.6M46.2 486.4H537.6M46.2 441.8H537.6M46.2 397.3H537.6" stroke="#e6e6e6" stroke-width="0.9" stroke-dasharray="2.5 1.5" fill="none"/>
<polyline class="bl" points="46.2,418.7 83.2,420 104.8,411.3 120.2,424 132.1,400.4 141.8,422.7 150,410 157.1,406.7 163.4,406.8 169.1,423 174.1,412.4 178.8,400.4 183,407.8 187,419.7 190.7,431.7 194.1,408.7 197.4,408.7 200.4,402.8 203.3,404.6 206,401 208.6,416 211.1,429.3 213.5,389.3 215.8,413.3 217.9,396.7 220,405 222,400.4 224,414.2 225.9,393 227.7,412.4 229.4,399.5 231.1,410.5 232.7,405 234.3,417.9 235.9,423.4 237.4,417.9 238.9,434.5 240.3,423.4 241.7,400.4 243,414.2 244.3,432.6 245.6,416 246.9,424.3 248.1,416 249.3,402.2 250.5,400.4 251.6,407.8 252.7,418.8 253.8,414.2 254.9,419.7 256,412.4 257,418.8 258,406.8 259,440.9 260,414.4 261,426.2 261.9,429 262.8,438.6 263.7,416.2 264.6,419.6 265.5,421.5 266.4,413.9 267.2,436.3 268.1,426.6 268.9,416.6 269.7,411.1 270.5,437.3 271.3,407 272.1,421.9 272.9,454.7 273.6,440.3 274.4,435.5 275.1,416.2 275.8,419.5 276.6,406.5"/>
<linearGradient id="gb1" gradientUnits="userSpaceOnUse" x1="278.2" y1="0" x2="376.2" y2="0"><stop offset="0" stop-color="#4a92c9"/><stop offset="1" stop-color="#0b72bd"/></linearGradient>
<polyline class="bd" stroke="url(#gb1)" points="276.6,406.5 277.3,432.1 278,429.7 278.6,419.3 279.3,423.6 280,460.6 280.7,431.7 281.3,423.4 282,435.9 282.6,410.8 283.2,442.2 283.9,436.6 284.5,421.1 285.1,442.2 285.7,418 286.3,421.8 286.9,415.5 287.5,420.8 288,424.7 288.6,433.2 289.2,417 289.7,430.7 290.3,424.7 290.8,433.8 291.4,419.5 291.9,426.4 292.4,420.4 293,415.8 293.5,447 294,458.6 294.5,428.4 295,421.2 295.5,425.7 296,434 296.5,445.3 297,417.8 297.5,431 297.9,435 298.4,421 298.9,438.5 299.4,421.3 299.8,428.8 300.3,447.3 300.7,446.2 301.2,419.8 301.6,460.6 302.1,441.7 302.5,431.4 302.9,446.4 303.4,441 303.8,444.9 304.2,420.8 304.7,429.2 305.1,447.7 305.5,445.4 305.9,441.2 306.3,418.2 306.7,419.7 307.1,427.5 307.5,445.7 307.9,437.7 308.3,430.8 308.7,439 309.1,439.2 309.5,451.1 309.9,419.8 310.2,425.2 310.6,419.8 311,435.1 311.4,435.2 311.7,420.5 312.1,433.9 312.5,440.1 312.8,428.2 313.2,447.4 313.5,434.9 313.9,423.4 314.2,432.1 314.6,447.8 314.9,425.9 315.3,437.4 315.6,427.1 316,441.6 316.3,432.4 316.6,460.6 317,430.8 317.3,443.1 317.6,445.4 318,436.1 318.3,418 318.6,448.5 318.9,434.9 319.3,422.6 319.6,452.8 319.9,433.1 320.2,441 320.5,437.8 320.8,433 321.1,440.7 321.5,423.5 321.8,434.6 322.1,428.3 322.4,444.3 322.7,473.6 323,432.1 323.3,454.3 323.6,423.4 323.8,425.5 324.1,426.7 324.4,434.8 324.7,425.2 325,431.2 325.3,429.8 325.6,452 325.9,436.5 326.1,436.2 326.4,430.9 326.7,425.4 327,432.2 327.3,432.5 327.5,437.9 327.8,440.7 328.1,436.3 328.3,456.9 328.6,484.5 328.9,429.5 329.1,433.5 329.4,419.4 329.7,441.8 329.9,426.6 330.2,433.6 330.5,431.9 330.7,437.2 331,443.4 331.2,431.6 331.5,428.3 331.7,434.8 332,457 332.2,449.2 332.5,430.9 332.7,426.9 333,454.6 333.2,428.7 333.5,427.5 333.7,443.6 334,428.1 334.2,433.6 334.4,429.6 334.7,424.4 334.9,446.1 335.2,448.7 335.4,424.5 335.6,442.2 335.9,434.6 336.1,422.6 336.3,430.7 336.6,417.6 336.8,455.1 337,451.4 337.3,438.5 337.5,430.9 337.7,452.1 337.9,460.7 338.2,439.9 338.4,438.1 338.6,425.5 338.8,439.6 339.1,472.7 339.3,447.8 339.5,440.4 339.7,431.6 339.9,430.6 340.1,427.2 340.4,433.7 340.6,421.1 340.8,441.4 341,446.8 341.2,434.5 341.4,439.6 341.6,427.3 341.8,451.4 342.1,433.4 342.3,423 342.5,435.4 342.7,437.8 342.9,443.5 343.1,421.7 343.3,433.4 343.5,423.7 343.7,424.9 343.9,425.6 344.1,449.7 344.3,445.9 344.5,429.3 344.7,440.4 344.9,442.2 345.1,430.4 345.3,435.2 345.5,439.7 345.7,439.3 345.9,440.4 346.1,452.8 346.3,421.1 346.5,430.2 346.6,444.1 346.8,442.1 347,431.9 347.2,435.2 347.4,454.1 347.6,469 347.8,436.5 348,426.8 348.2,433 348.3,432.3 348.5,431.6 348.7,434 348.9,435.7 349.1,432.9 349.3,444 349.4,441.7 349.6,446.5 349.8,455.6 350,425.5 350.2,437.5 350.3,475.2 350.5,439.5 350.7,429.5 350.9,442.1 351,442.1 351.2,429.3 351.4,450 351.6,477.6 351.7,424 351.9,444.8 352.1,434.2 352.3,433.5 352.4,444.7 352.6,458.1 352.8,453.5 352.9,421.2 353.1,437.3 353.3,471.6 353.5,436.1 353.6,430.7 353.8,434.5 354,429.5 354.1,422.8 354.3,429.5 354.5,442 354.6,438.2 354.8,477.3 354.9,433.4 355.1,431.8 355.3,430.3 355.4,457.9 355.6,427.8 355.8,429.1 355.9,421.1 356.1,437.5 356.2,431.7 356.4,423.5 356.6,439.4 356.7,443.3 356.9,419 357,427.6 357.2,430.2 357.3,431.6 357.5,431.9 357.7,480 357.8,464.4 358,433.9 358.1,428.2 358.3,422.4 358.4,441.8 358.6,442.1 358.7,430.3 358.9,448.8 359,426.4 359.2,447.5 359.3,433.7 359.5,422.1 359.6,438.2 359.8,442.1 359.9,429.5 360.1,426 360.2,430.6 360.4,458.2 360.5,437 360.7,466 360.8,426.6 361,454.4 361.1,419.1 361.3,432.6 361.4,439.5 361.6,425.7 361.7,430.5 361.8,429.1 362,459.7 362.1,430.6 362.3,476 362.4,442.4 362.6,424.5 362.7,426.6 362.8,434.1 363,443.7 363.1,426.4 363.3,454.1 363.4,425.1 363.5,427 363.7,438.4 363.8,426.6 364,431.3 364.1,424.8 364.2,432.9 364.4,439.1 364.5,418.8 364.6,415.2 364.8,421.5 364.9,439.1 365.1,423.5 365.2,431.3 365.3,433.9 365.5,424.5 365.6,438.5 365.7,441.9 365.9,436.5 366,428.9 366.1,427.2 366.3,439.7 366.4,426.9 366.5,424 366.7,439.6 366.8,430 366.9,444.3 367.1,434.1 367.2,426 367.3,416 367.4,425.2 367.6,436.1 367.7,427.3 367.8,433.8 368,443.2 368.1,423.1 368.2,421.9 368.3,426.5 368.5,435.9 368.6,430.6 368.7,425.9 368.8,432.1 369,426.7 369.1,423.9 369.2,432.2 369.3,426 369.5,436.9 369.6,427.6 369.7,430.1 369.8,420.4 370,436.3 370.1,438.2 370.2,428.2 370.3,431.2 370.5,421.8 370.6,427.5 370.7,432.2 370.8,415.4 370.9,431.9 371.1,427.4 371.2,423.7 371.3,424.8 371.4,421 371.6,430.6 371.7,425.4 371.8,454.8 371.9,423.6 372,433 372.1,413.1 372.3,446.3 372.4,417.4 372.5,414.3 372.6,431.4 372.7,437.3 372.9,480 373,443.7 373.1,437.2 373.2,435.7 373.3,456.7 373.4,421.1 373.6,430.1 373.7,430.2 373.8,428.7 373.9,417.1 374,421.8 374.1,431.2 374.2,428.3 374.4,435.6 374.5,439.6 374.6,435.2 374.7,422.4 374.8,429.5 374.9,439.4 375,434.2 375.1,429 375.3,425 375.4,456.5 375.5,463.8 375.6,446.8 375.7,427.9 375.8,436.8 375.9,418 376,421.3 376.1,435.6 376.3,412.9 376.4,436.2 376.5,427.7 376.6,419.6 376.7,426.6 376.8,437.8 376.9,439.1 377,445.4 377.1,429.4 377.2,422 377.3,412.2 377.4,423.1 377.6,426.4 377.7,410.9 377.8,425.8 377.9,418.7 378,429.6 378.1,431.6 378.4,419 378.5,423.1 378.6,449.7 378.7,421.2 378.8,409.6 378.9,425.5 379,414.5 379.1,427.5 379.2,414.5 379.3,425.2 379.4,427.9 379.7,415.8 379.8,431.1 379.9,420.1 380,416.4 380.1,424.5 380.2,420.5 380.3,411.8 380.4,443 380.5,437.3 380.7,421.7 380.8,424.5 380.9,423 381,441.8 381.1,426.3 381.2,417.7 381.5,432.1 381.6,427.3 381.7,427.1 381.8,428.8 381.9,419.5 382,424.7 382.1,443.4 382.2,423.7 382.3,417.5 382.4,438.6 382.5,425.1 382.6,434.1 382.7,417.8 382.8,421.7 382.9,428.7 383,416.8 383.1,429 383.2,413.4 383.3,410.9 383.4,421.5 383.5,429.4 383.7,417.4 383.8,421.5 383.9,432.8 384,429.1 384.2,448.2 384.3,430.7 384.4,425.6 384.5,426.1 384.6,416.9 384.8,414 384.9,430.5 384.9,411.7 385,422 385.1,442.5 385.2,429.8 385.5,414 385.6,421.5 385.8,414.8 385.9,450.9 386,431.3 386.1,441.4 386.2,415.9 386.3,430.2 386.4,426.7 386.5,425.5 386.6,429.2 386.7,445.7 386.9,432.1 387,418.7 387.1,442.1 387.2,433 387.3,425.4 387.4,419 387.5,429.3 387.6,423.8 387.7,427.8 387.8,434.7 387.9,424.8 388,445.5 388.1,428.8 388.2,416.5 388.3,433.2 388.4,448.6 388.6,431.6 388.6,434.1 388.7,409.9 388.8,446.4 388.9,439.5 389,422.7 389.2,429.7 389.3,433 389.6,418.2 389.7,423.4 389.8,429 389.9,422.7 390,418.7 390.3,440.2 390.4,460 390.4,417.9 390.6,425.7 390.7,421.6 390.8,481.5 390.9,415 391,404.2 391.3,434.8 391.4,413.1 391.4,439.4 391.6,437.3 391.7,420.2 391.8,428.9 392,416.8 392.1,425.5 392.2,432.9 392.3,431 392.4,418.4 392.7,424.7 392.7,407.8 392.9,445.5 393,426.4 393.1,422.3 393.1,406.7 393.2,440 393.3,424.4 393.4,423 393.7,454.9 393.8,442.3 393.9,417 394,417.8 394.1,421.4 394.2,439.7 394.3,420.1 394.3,438.4 394.4,423.4 394.6,435.7 394.7,430.8 394.8,421 395,416.6 395,431.5 395.1,425.9 395.2,438.3 395.3,416.1 395.4,416.4 395.5,444.8 395.6,413.4 395.7,422.2 395.8,417.8 395.9,445 396,412.8 396.1,430.3 396.3,424.5 396.3,478.8 396.4,432.9 396.5,428.6 396.6,411.5 396.7,446.1 396.8,426 396.9,426.2 397,418.3 397.1,424.8 397.1,414.9 397.2,434.2 397.4,412.2 397.4,413.1 397.5,433.3 397.6,419 397.7,438.6 397.8,419.5 397.9,444.3 398.1,414.6 398.2,418.6 398.3,406.7 398.4,436.1 398.5,422.1 398.5,436.4 398.6,414.9 398.7,436.7 398.8,430.4 398.8,423.3 399.1,414.6 399.2,426.3 399.3,418.5 399.4,427.9 399.5,422.2 399.5,425.1 399.7,441.2 399.8,406.1 399.8,419.5 399.9,420.3 400,439.7 400,407.3 400.2,420.3 400.2,420.4 400.4,422.2 400.5,406.9 400.5,421.7 400.6,411.3 400.7,427.3 400.8,415 400.9,422 401,444.4 401.1,411.5 401.2,418.1 401.2,422.3 401.4,410.9 401.4,428.7 401.5,424.8 401.6,426.6 401.8,430.2 401.8,409.9 401.9,415.8 402,435.2 402,405 402.2,410.2 402.2,418.4 402.4,423.9 402.5,420.2 402.6,422.1 402.6,414.3 402.8,427.7 402.8,424.4 402.9,430.1 403,407.7 403.2,426 403.2,424.7 403.4,447.9 403.5,410.6 403.6,421.6 403.6,426.2 403.7,426.3 403.9,413.5 404,414.9 404,412.2 404.2,429.4 404.3,453.1 404.5,408.2 404.6,412.1 404.6,407.2 404.7,441.5 404.9,417.9 405,410.6 405.1,470.3 405.3,420.1 405.3,430.2 405.4,414.3 405.6,424.4 405.6,416 405.8,411.2 406,421.9 406,417 406.1,423.6 406.3,406.9 406.3,408.7 406.5,424.4 406.6,420.3 406.6,406 406.8,426.3 407,422.5 407,403.1 407.2,459.6 407.3,406.4 407.4,410.8 407.4,432.2 407.5,406.8 407.6,415.7 407.7,416 407.9,464.2 408,411.8 408.1,445.7 408.1,412.3 408.3,427.4 408.4,424.7 408.4,433.3 408.5,403.1 408.7,409 408.7,427.8 408.8,429.9 409,413.3 409,424.6 409.1,417 409.2,435.7 409.3,418.6 409.4,408.1 409.5,436.9 409.7,410 409.7,425.4 409.9,413.1 410,467.7 410.1,414.6 410.1,429.3 410.2,406.2 410.4,417.8 410.4,418 410.5,443.6 410.6,413 410.7,423.4 410.8,419.4 411,421.2 411,407.6 411.1,418.8 411.3,409.2 411.4,415.7 411.4,399.2 411.7,417.6 411.7,412.1 411.8,420.5 412,422.9 412.1,406.3 412.1,403.6 412.3,396.2 412.4,426.8 412.5,420.8 412.6,421.2 412.7,408.5 412.8,413 413,427.3 413.1,404.1 413.1,409.3 413.2,432.3 413.4,403 413.5,397.6 413.6,445.5 413.7,406.6 413.8,414.9 413.8,399.1 413.9,460.5 414.1,414.9 414.2,410 414.3,407.4 414.4,417.6 414.4,416.6 414.5,413 414.5,419.5 414.8,403.5 414.8,414.8 414.9,423 415,401.6 415.1,414.3 415.2,427.9 415.3,410.6 415.4,437.4 415.5,412.4 415.7,423.7 415.8,396 415.9,421 416,405.6 416.1,407.2 416.2,414.9 416.3,412.2 416.4,429.2 416.5,424.1 416.5,419.2 416.7,402.6 416.8,410.6 416.8,408.6 417,400.5 417.1,422.4 417.2,432.9 417.3,404.2 417.4,466.6 417.5,434.1 417.6,419.1 417.6,428.8 417.8,412.2 417.9,425.6 417.9,404.3 418.1,466.2 418.2,412.7 418.2,414.3 418.3,399.6 418.5,449 418.5,416.8 418.6,404.6 418.8,431.3 418.9,419.7 418.9,407.8 419,399.9 419.2,422.1 419.2,416.6 419.4,402.4 419.4,431.9 419.5,409.9 419.6,418.2 419.9,398.7 419.9,411.5 420.1,414.9 420.2,402.3 420.2,403.8 420.3,413 420.3,420.2 420.4,397.9 420.6,412.4 420.6,406.5 420.7,403.3 420.8,454 420.9,417.6 420.9,424.9 421.2,401.6 421.3,402.9 421.4,435.5 421.4,395.3 421.6,403.4 421.6,400.8 421.7,397.4 421.9,420.7 421.9,418.6 422,401 422.2,434.7 422.3,395.3 422.3,406.7 422.4,390.2 422.5,417.7 422.6,404.2 422.6,403.6 422.7,452.7 422.9,399.5 422.9,409.8 423,403.1 423.1,410.9 423.3,393.3 423.3,395.1 423.6,428.4 423.6,408.8 423.7,418.2 423.9,398.9 423.9,418.8 424,423.9 424.2,389.5 424.3,416.1 424.3,397.5 424.7,413.5 424.7,404.4 424.7,413.2 424.8,400 425,411.7 425,400.9 425.2,396.1 425.3,425.5 425.3,399.4 425.4,416.8 425.4,397 425.6,418.5 425.7,400.5 425.7,402.3 425.8,394.6 425.9,425.7 426,409.5 426.1,433.8 426.2,393.4 426.4,415.3 426.4,415.2 426.6,419.6 426.7,395.9 426.7,409.8 427,395.4 427,428.5 427,395.8 427.1,409 427.1,423.3 427.2,397.6 427.4,401.2 427.4,416.7 427.6,398.6 427.7,440 427.8,409 427.8,419.1 428,394.5 428,408.6 428.1,408.1 428.3,400.1 428.3,427.5 428.4,411.7 428.4,396.7 428.5,435.3 428.7,392.1 428.7,416.7 428.7,429.2 428.9,395 429.1,410.3 429.1,410.5 429.2,393.4 429.4,429 429.4,405.8 429.4,395.9 429.7,408.9 429.8,418.1 430,397.9 430,419.4 430.1,415.9 430.1,405.7 430.2,411.9 430.4,389.7 430.4,399.1 430.6,398.2 430.8,428.9 430.8,397.7 431.1,421.8 431.2,396.7 431.2,425.2 431.4,394.5 431.5,413 431.5,449.8 431.8,397.8 431.8,400.4 432,418.5 432.1,408.1 432.2,407.4 432.3,399.6 432.5,448.5 432.5,410 432.5,391.8 432.8,423.6 432.9,402.5 432.9,396.1 433.1,463.1 433.2,399.8 433.2,406.7 433.2,396.2 433.5,410.7 433.5,406.4 433.5,395.6 433.7,412.3 433.8,407.2 433.9,398.6 434,390.1 434.2,416.3 434.2,405.3 434.2,433.4 434.5,399.6 434.5,396.4 434.7,446.9 434.7,394.2 434.8,427.3 434.9,409.3 435,397.5 435.1,410.4 435.2,406.4 435.2,402 435.4,419.3 435.4,394 435.5,410.8 435.6,408.7 435.7,394.8 435.8,417.7 435.9,403 436.2,436.4 436.2,397.4 436.2,405.4 436.3,416.5 436.4,389.1 436.5,409.3 436.6,405.3 436.8,395.1 436.9,462.1 436.9,404 436.9,394.5 437.2,407.8 437.2,407.2 437.3,399 437.3,412.8 437.3,389.7 437.6,409.5 437.6,403.9 437.6,392 437.8,414 437.9,403.3 437.9,393.1 438,391.6 438.2,413.3 438.2,402.6 438.3,395 438.4,411.5 438.5,392.8 438.6,402 438.6,433.6 438.9,390.9 438.9,395.1 439,454.6 439,392.4 439.3,426.7 439.3,399.7 439.4,390 439.6,412.1 439.6,386.1 439.8,419.6 440,402.2 440,404.3 440.1,422 440.2,393 440.3,405 440.3,407.4 440.4,428.7 440.5,393.4 440.6,400.9 440.7,420.1 440.7,391.2 440.9,396.7 441,397.6 441,387.3 441.1,421.8 441.3,415.3 441.3,405.9 441.6,424 441.6,389.5 441.6,417.8 441.7,406.5 441.7,394.9 442,446.2 442,403.2 442,392.3 442.3,420.3 442.4,390.7 442.4,416.5 442.7,393.9 442.7,415.1 442.8,433.8 443,389.4 443,403.1 443.2,389.7 443.2,431.5 443.3,415 443.4,383.1 443.7,428.9 443.7,395.2 443.7,389.6 443.8,455.9 444,424.9 444.1,400 444.2,387.5 444.4,404.2 444.4,400.4 444.5,386.9 444.5,409.4 444.7,401 444.7,395.8 444.9,389.8 445,410.2 445,396.2 445.1,389.3 445.2,420.2 445.4,388.9 445.4,405.1 445.4,383.3 445.7,421.3 445.7,404.9 445.8,405.7 446,385.1 446,410.4 446.1,390.5 446.1,392.9 446.1,389 446.2,406.3 446.4,392 446.4,387.2 446.5,420.6 446.8,399.8 446.8,469.7 446.8,390.8 447.1,400.4 447.1,404.6 447.3,386.3 447.4,395.6 447.5,402.3 447.5,415.9 447.6,390.6 447.8,398.9 447.8,407.9 447.9,427.5 448.1,385.4 448.1,406.9 448.3,436.5 448.5,386.5 448.5,409.5 448.7,386.7 448.8,411.2 448.8,400.4 449,433.5 449.1,383.4 449.1,418.9 449.2,383.1 449.4,422.3 449.5,387.6 449.5,398.4 449.6,408.7 449.8,388.5 449.8,396.9 449.8,394.8 449.9,384.7 449.9,427.4 450.1,393.6 450.2,391.6 450.2,432.5 450.3,387.9 450.5,423.9 450.5,399.1 450.7,387.4 450.8,406.6 450.8,399.8 450.8,403 451,387.5 451,416.4 451.2,391 451.2,392.5 451.3,390.2 451.3,436.4 451.5,395.2 451.5,411.9 451.7,382.6 451.8,449.5 451.8,411.3 451.9,396.8 452.1,388.2 452.1,414.3 452.2,406.8 452.2,404.1 452.4,393.8 452.5,413.2 452.5,396.8 452.6,412.3 452.6,388.8 452.7,461.9 452.9,403.3 452.9,416.7 453.1,394.3 453.1,444.5 453.2,396.2 453.2,412.8 453.3,382.8 453.4,416.7 453.5,401.5 453.6,399.7 453.7,385 453.8,425.9 453.9,406.9 453.9,387.2 454,385.7 454.1,406.8 454.2,398.1 454.3,389.2 454.3,412.9 454.3,388.2 454.6,408.1 454.6,390.8 454.7,388.3 454.8,411.2 454.9,402.4 454.9,415.6 455,449.1 455.2,388.8 455.2,406 455.3,399.9 455.3,392.1 455.4,421 455.6,407.7 455.6,411.1 455.7,421.3 455.9,389.8 455.9,396 456,417.9 456,386.6 456.1,418.6 456.3,393.5 456.3,400.4 456.5,385.3 456.6,410.6 456.6,392.9 456.8,411.1 456.9,388.3 456.9,395.2 457,406.1 457.2,387.2 457.2,412.8 457.3,398.9 457.3,396.2 457.4,425.5 457.6,386 457.6,393.6 457.7,401.2 457.7,393.9 457.9,422.2 458,396.3 458,396.8 458.1,387.9 458.1,418.7 458.3,415.4 458.3,421.3 458.5,392.5 458.7,398.5 458.7,398 458.7,445.8 458.9,382.5 459,405.3 459,416.1 459.3,428.6 459.3,390.3 459.4,411.6 459.4,382.5 459.6,422.2 459.7,396.3 459.7,390.4 459.9,386.8 459.9,420.8 460,403.9 460,394.9 460.2,407.1 460.3,385.7 460.4,400.9 460.4,404.1 460.5,421.6 460.6,385.6 460.7,389.9 460.7,400 460.8,451.7 461,388.4 461,394.8 461.1,391 461.1,435.9 461.1,383.4 461.4,406.7 461.4,399.7 461.5,385.4 461.7,439.6 461.7,397.3 461.7,394.8 461.9,412.7 461.9,387.5 462.1,391.2 462.1,413.7 462.3,425.5 462.3,389.1 462.4,395.9 462.4,434.6 462.4,380.3 462.7,408.9 462.8,393.7 462.9,428.1 463.1,385.8 463.1,408 463.1,419.3 463.3,379.7 463.4,405.1 463.4,391.7 463.6,416.1 463.7,386.2 463.7,403 463.8,397.8 463.8,384.1 464,417.7 464.1,391.8 464.1,405 464.4,405.8 464.4,391.3 464.4,421.7 464.5,389.5 464.7,422.9 464.8,398.4 464.8,392.2 464.9,389.6 464.9,418.5 465.1,398.8 465.1,390.1 465.2,386.7 465.4,432.8 465.4,402.5 465.5,405.7 465.5,390.1 465.6,420.9 465.8,407.1 465.8,402.8 466.1,387.5 466.1,418.5 466.1,404.4 466.2,403.5 466.2,417.2 466.4,384.1 466.5,391.7 466.5,406.2 466.6,440.8 466.7,389.1 466.8,400.4 466.8,403.8 466.9,428.7 467,393 467.1,398.5 467.2,402.8 467.3,395 467.5,414.3 467.5,397.4 467.5,410.3 467.8,423.8 467.8,393.3 467.8,397.4 467.9,437 468.1,392 468.2,396.5 468.2,400.5 468.3,390.5 468.4,467 468.5,408.7 468.5,402.4 468.8,432.1 468.8,395.9 468.9,406.7 468.9,416.3 469,459 469.1,397.9 469.2,412.8 469.2,390 469.3,439.4 469.5,437.4 469.5,411.8 469.7,389.7 469.8,435.9 469.9,419 469.9,411.4 470,392.7 470.1,452.2 470.2,427.9 470.2,420.1 470.3,395.4 470.5,422.6 470.6,399.2 470.6,413.3 470.7,428.8 470.7,387.8 470.9,410.8 470.9,408 471,396.4 471.1,431.9 471.2,407 471.2,405.2 471.3,428.3 471.4,395.3 471.6,409.2 471.6,429.4 471.6,438.8 471.7,397.1 471.9,405.9 471.9,411 472.2,389.6 472.2,432.1 472.3,408.1 472.3,395.4 472.4,393.4 472.4,448 472.6,401.1 472.6,427.6 472.9,432.6 472.9,393.6 472.9,426.2 473,406.2 473,394.6 473.2,427.5 473.3,411.1 473.3,414.1 473.3,446.3 473.5,390.7 473.6,407.4 473.6,403.3 473.8,392.5 473.9,410.6 473.9,407.3 474,398.4 474.1,417.9 474.2,391.8 474.3,406.7 474.3,391.4 474.6,391.2 474.6,413.5 474.6,402.5 474.8,430.2 474.8,394.8 475,417.2 475,405.6 475.1,387.8 475.1,433.2 475.3,400.7 475.3,405.7 475.4,431.1 475.5,394.4 475.6,409 475.7,405.7 475.8,394.6 475.9,424.5 476,405.9 476,394.7 476.3,436.7 476.3,408.1 476.4,407.3 476.6,424.1 476.6,394.3 476.7,395.1 476.7,414.6 476.7,391.2 476.8,419.7 477,411.3 477,408.5 477.1,395.8 477.2,428.2 477.4,402.5 477.4,416.1 477.6,390.5 477.6,425.3 477.7,408.9 477.7,411.6 477.8,390.9 477.8,430.9 478,397.1 478,395.9 478.2,394 478.2,423 478.4,403.7 478.4,403.5 478.4,387.5 478.5,434 478.7,403.6 478.7,406.8 478.8,394.6 478.9,423.5 479,411.7 479.1,401.2 479.2,448.2 479.4,397.2 479.4,404.8 479.4,465.4 479.6,390.5 479.7,413.1 479.7,435.9 479.9,436.3 479.9,398.5 480.1,412.9 480.1,408 480.2,392.7 480.3,437.6 480.4,411.9 480.4,411.5 480.5,399.2 480.7,428.6 480.8,422.6 480.8,402.9 480.8,423 480.8,391.1 481.1,417.5 481.1,401.1 481.3,419.1 481.3,396.8 481.4,402.1 481.5,412.7 481.5,400.2 481.6,449.6 481.8,413.5 481.8,421.3 481.9,428.9 482.1,399.7 482.1,421.1 482.1,435 482.4,398.6 482.5,408.2 482.5,411 482.5,399.8 482.6,445.2 482.8,401.1 482.8,418.8 482.9,465 483,400.9 483.1,427 483.2,411.8 483.3,396.8 483.4,427.7 483.5,420.5 483.5,397.2 483.5,446.2 483.8,438.3 483.8,402.2 484,395.2 484,426.4 484.1,423 484.2,409.4 484.2,427.8 484.5,405.3 484.5,429.7 484.5,437 484.7,404.6 484.8,421.9 484.8,414.5 484.9,403.4 485.1,472.2 485.2,416.1 485.2,417.2 485.3,469 485.5,402.4 485.5,422 485.5,424.9 485.6,450 485.8,408.9 485.9,397.8 486,457.8 486.2,412.9 486.2,422 486.4,463.6 486.4,405.4 486.5,431.1 486.5,422.6 486.6,406.8 486.6,432.6 486.9,419.2 486.9,418.2 487,406 487.2,438.1 487.2,420.6 487.2,419.3 487.3,409.5 487.6,443.8 487.6,422.3 487.6,437.4 487.9,406.3 487.9,421.1 487.9,416.6 488.1,427.9 488.2,404.9 488.2,423.4 488.2,410 488.3,433.5 488.6,407.3 488.6,425.4 488.6,498 488.9,407.2 488.9,414.3 488.9,415.4 489.1,402.9 489.3,448.3 489.3,421.4 489.3,406.2 489.4,459 489.6,416.5 489.6,412.7 489.9,433.5 489.9,424.7 490,411.6 490,445.4 490.1,407.6 490.3,444.9 490.3,434.8 490.3,448.8 490.4,402.2 490.6,429.7 490.6,412.1 490.8,456.5 490.8,406.5 491,432.4 491,423.6 491,456.8 491.1,408.4 491.3,418.9 491.3,428.2 491.5,454.3 491.6,406.7 491.6,410.7 491.6,425.6 491.7,413.7 491.8,468 492,427.6 492,437.2 492.1,414.9 492.2,445.1 492.3,428.5 492.3,423.7 492.4,414.2 492.6,453.6 492.7,421.4 492.7,430.3 492.8,457.3 493,407 493,430.3 493,433.6 493.1,413.6 493.1,449 493.3,418.7 493.3,427 493.6,418.1 493.6,439.8 493.7,419.7 493.7,428.4 493.8,463.8 493.9,415.3 494,422.5 494,433.4 494.1,439.4 494.2,411.9 494.4,428.8 494.4,425.6 494.5,415 494.7,446.2 494.7,416.3 494.7,435.7 494.9,446.4 495,412.7 495,435.7 495,433.8 495.2,458.3 495.2,418 495.4,431.3 495.4,430.6 495.6,484.9 495.6,412.5 495.7,428.6 495.7,438.8 495.8,451.8 496,416.9 496.1,427.1 496.1,416.5 496.3,450.5 496.4,447.1 496.4,428.2 496.6,415.1 496.7,469.7 496.7,424.6 496.7,432.4 496.9,450.5 497,418.5 497.1,439.4 497.1,432.7 497.1,487.2 497.2,415.6 497.4,432.7 497.4,442.6 497.7,446 497.7,414.1 497.8,420.2 497.8,431.4 497.8,415.1 498,458.8 498.1,433.7 498.1,436.9 498.3,413.2 498.4,457.8 498.4,436.2 498.4,447.4 498.7,419.4 498.8,470.5 498.8,432.2 498.9,449.2 499.1,417.3 499.1,432.3 499.1,437.1 499.3,420.9 499.4,468 499.5,429.9 499.5,442.4 499.5,424.3 499.7,476.8 499.8,438.9 499.8,443 499.9,468.3 500,426.5 500.1,428.6 500.1,437.6 500.2,418.5 500.3,460.7 500.5,430.3 500.5,445.5 500.7,462.9 500.7,424.9 500.8,436.1 500.8,437.5 501.1,473.8 501.1,424 501.2,456.4 501.2,446.3 501.3,424.8 501.4,476.4 501.5,449.9 501.5,456.1 501.6,428 501.7,470.6 501.8,459.3 501.8,447.1 501.9,463.6 502.1,424.5 502.2,441.1 502.2,445.3 502.2,436.3 502.5,465.1 502.5,439.2 502.5,447.9 502.7,426.8 502.8,474.8 502.9,450.4 502.9,488.4 503,437.4 503.2,450.3 503.2,441 503.3,500.2 503.4,434.7 503.5,451.5 503.5,440.8 503.8,507.5 503.8,436.2 503.9,448.6 503.9,488.3 503.9,434.5 503.9,506 504.2,440.2 504.2,453.5 504.3,437.1 504.4,468.4 504.6,465.1 504.6,451.4 504.6,446.3 504.6,480.8 504.9,454 504.9,455.5 505.1,437.9 505.2,501.5 505.2,448.5 505.4,504.9 505.5,444.6 505.6,461.8 505.6,446.7 505.8,483.9 505.9,445.8 505.9,470.2 505.9,463.1 505.9,447.6 506,490 506.3,455.8 506.3,474.2 506.4,443.7 506.4,488.1 506.6,450.8 506.6,458.5 506.7,506.4 506.9,447.4 506.9,462.3 506.9,476.9 507.2,448.5 507.2,517 507.3,463.6 507.3,464.2 507.5,449.9 507.6,535 507.6,456.8 507.6,449.7 507.7,446.8 507.9,478.3 508,457.7 508,457.7 508.2,445.8 508.2,488.2 508.3,474.6 508.3,467.3 508.5,449.2 508.5,482.2 508.6,458.7 508.6,465.2 508.8,450.1 508.9,494.9 509,462.2 509,484.4 509,450.1 509.3,462.3 509.3,454.8 509.6,451.7 509.6,503.6 509.7,465.6 509.7,480.1 510,447.6 510,456.6 510,470.4 510,452.5 510.2,498.9 510.3,467.3 510.3,466.8 510.6,455.9 510.6,491.6 510.7,489.3 510.7,458.8 510.8,454.4 510.9,492.6 511,479.3 511,472.4 511.1,510.8 511.2,456.3 511.4,483.3 511.4,484.1 511.5,457.6 511.6,526.9 511.7,468.4 511.7,463 511.9,459.8 512,508.9 512,473.5 512,477.6 512.2,505.2 512.4,451.8 512.4,484.4 512.4,473.4 512.6,454.9 512.6,493.8 512.7,478.3 512.7,473.2 513,458.4 513,491.6 513.1,478.6 513.1,475.8 513.1,458.6 513.2,519.6 513.4,479.5 513.4,461.2 513.5,457.3 513.5,512.5 513.7,482.9 513.7,493.1 514,462.7 514.1,499.3 514.1,470.2 514.2,505.6 514.3,451.5 514.4,470.3 514.4,474.5 514.5,463.5 514.6,510.4 514.8,477.9 514.8,468.9 514.8,509.9 515.1,463.5 515.1,491.8 515.3,553.4 515.4,459.5 515.4,483.1 515.4,467.5 515.5,456.6 515.7,533.2 515.8,471.8 515.8,464.8 515.8,459.9 515.8,500.4 516.1,467.2 516.1,484.2 516.3,460.2 516.4,523.9 516.5,475.9 516.5,478 516.5,504 516.7,456.3 516.8,497.7 516.8,492.8 516.9,501.8 517.1,460.3 517.1,484.3 517.1,483.2 517.3,518.4 517.3,468.2 517.5,472.7 517.5,495.5 517.7,463.5 517.8,515.5 517.8,483.6 517.8,481.9 517.8,528.7 518.1,464.2 518.2,475.5 518.2,488.6 518.5,461.3 518.5,525.4 518.5,486 518.5,467 518.6,502.2 518.8,483.3 518.8,469.4 518.9,511.1 519,465.6 519.2,485.7 519.2,497.2 519.3,514.2 519.4,469.6 519.5,477.6 519.5,478.2 519.5,529.1 519.8,464.4 519.9,477.3 519.9,487.6 520.1,523.9 520.2,473.2 520.2,477.3 520.2,484 520.2,472.4 520.3,517.7 520.5,488.1 520.5,485.5 520.6,470 520.7,531.7 520.9,480.7 520.9,492.9 521,507.1 521.2,472.2 521.2,491.8 521.2,476.2 521.2,470.1 521.5,522.4 521.6,482.9 521.6,504.5 521.9,527.3 521.9,475.3 521.9,494.9 521.9,493.7 522,467.9 522,519.5 522.2,493.7 522.2,514.4 522.5,514.4 522.5,467 522.6,489.1 522.6,483.7 522.7,539.5 522.9,470.8 522.9,474.5 522.9,498.8 522.9,472.7 523.2,544.3 523.3,489.1 523.3,474.3 523.4,471.3 523.5,509.6 523.6,501.2 523.6,477 523.7,471.9 523.8,519.6 523.9,486 523.9,486.6 524,511.1 524.2,471.5 524.3,499.1 524.3,485.5 524.3,475.7 524.5,528.1 524.6,485 524.6,497.1 524.9,522.6 524.9,472.6 525,495.5 525,494.4 525.1,471.2 525.2,518 525.3,500.7 525.3,505.5 525.4,473.3 525.6,522.2 525.6,490.7 525.6,538.2 525.7,478.8 526,493.6 526,508.8 526,571.8 526.2,477.6 526.3,485.6 526.3,491.9 526.5,478.1 526.6,521.1 526.7,500.5 526.7,501.5 526.7,479.3 526.7,545.4 527,490.7 527,494.1 527.2,523.6 527.3,479.6 527.3,493.7 527.4,543 527.7,480.8 527.7,497.3 527.7,500.6 527.8,477.6 527.8,513.9 528,504 528,497.6 528.3,530.6 528.3,477.9 528.4,506.9 528.4,528.6 528.4,530.9 528.6,478.6 528.7,499.3 528.7,491.4 528.8,481.3 529,523.8 529,510.9 529,489.2 529.1,481 529.1,525 529.4,490.5 529.4,488.7 529.5,477.6 529.7,532.8 529.7,534.9 529.8,538.3 530,484.3 530.1,495.2 530.1,518.6 530.1,483.3 530.4,535.4 530.4,504.6 530.4,489.8 530.5,485.8 530.6,556.4 530.7,505.8 530.7,525.4 530.8,547.9 531,489.5 531.1,507.4 531.1,503.9 531.3,482.8 531.3,517.4 531.4,494 531.4,492.4 531.5,584 531.6,483.6 531.8,485.8 531.8,517.4 531.8,490.9 532.1,540.4 532.1,506.7 532.1,501.9 532.3,555.6 532.4,490.3 532.4,506.7 532.4,497.1 532.5,492.4 532.6,560.3 532.8,518 532.8,512.5 532.8,545.5 532.8,486.3 533.1,497.9 533.1,516.9 533.3,487.8 533.3,544.5 533.5,507.9 533.5,521.5 533.5,532.5 533.6,493.4 533.8,497.5 533.8,502.4 533.9,491 534.1,552.9 534.1,514.2 534.1,515.8 534.2,493.1 534.4,555.5 534.5,499.8 534.5,499.2 534.7,567.6 534.8,514.7 534.8,523.9 534.9,493.8 535,552.9 535.2,528.1 535.2,512 535.3,553.1 535.4,498.1 535.5,514.9 535.5,525.3 535.6,503 535.6,559.5 535.8,521.5 535.8,520.5 536.1,587 536.1,505.8 536.2,518.6 536.2,523.7 536.4,546.7 536.5,500.9 536.5,517.2 536.5,533 536.7,511.2 536.8,566.8 536.9,529.7 536.9,530.3 537.1,555.7 537.1,509 537.2,512.2 537.2,551.4 537.2,508.4 537.4,552.7 537.5,519.2 537.5,510.7 537.6,547.4 537.6,533.9"/>
<linearGradient id="gr1" gradientUnits="userSpaceOnUse" x1="256.2" y1="0" x2="366.2" y2="0"><stop offset="0" stop-color="#f0889e"/><stop offset="1" stop-color="#c8305e"/></linearGradient>
<polyline class="rd" stroke="url(#gr1)" points="46.2,427 83,422 104.6,416.4 120,414.4 149.4,411.8 160,411.5 180,410 196.8,408.7 215.2,409 233.7,409.6 240,410.8 252,411.4 259.9,415.8 279.8,422.8 299.8,429.8 319.7,433.3 339.6,433.6 352,434.6 370.7,429 386,423 393.7,425.2 395,425.1 400.5,419.6 408.8,418.7 413.4,415 419,411.3 423.5,406.7 427.2,407.6 431.8,405.8 437.4,403 442.9,400.7 447.6,397.6 450.7,399.1 456.8,403 461.4,399.1 464.5,398.4 469.1,409.9 473.7,406 476.7,404.5 481.3,411.4 486,417.5 492,425.2 496.7,431.3 499.8,437.5 504.5,455.2 510.7,470.6 516.8,479.8 523,489 529,498.2 533.7,507.4 536.1,519.6 537.6,529"/>
<path d="M46.2 619.9v-4.9M46.2 352.8v4.9M83.2 619.9v-2.5M83.2 352.8v2.5M104.8 619.9v-2.5M104.8 352.8v2.5M120.2 619.9v-2.5M120.2 352.8v2.5M132.1 619.9v-2.5M132.1 352.8v2.5M141.8 619.9v-2.5M141.8 352.8v2.5M150 619.9v-2.5M150 352.8v2.5M157.1 619.9v-2.5M157.1 352.8v2.5M163.4 619.9v-2.5M163.4 352.8v2.5M169.1 619.9v-4.9M169.1 352.8v4.9M206 619.9v-2.5M206 352.8v2.5M227.7 619.9v-2.5M227.7 352.8v2.5M243 619.9v-2.5M243 352.8v2.5M254.9 619.9v-2.5M254.9 352.8v2.5M264.6 619.9v-2.5M264.6 352.8v2.5M272.9 619.9v-2.5M272.9 352.8v2.5M280 619.9v-2.5M280 352.8v2.5M286.3 619.9v-2.5M286.3 352.8v2.5M291.9 619.9v-4.9M291.9 352.8v4.9M328.9 619.9v-2.5M328.9 352.8v2.5M350.5 619.9v-2.5M350.5 352.8v2.5M365.9 619.9v-2.5M365.9 352.8v2.5M377.8 619.9v-2.5M377.8 352.8v2.5M387.5 619.9v-2.5M387.5 352.8v2.5M395.7 619.9v-2.5M395.7 352.8v2.5M402.8 619.9v-2.5M402.8 352.8v2.5M409.1 619.9v-2.5M409.1 352.8v2.5M414.8 619.9v-4.9M414.8 352.8v4.9M451.7 619.9v-2.5M451.7 352.8v2.5M473.4 619.9v-2.5M473.4 352.8v2.5M488.7 619.9v-2.5M488.7 352.8v2.5M500.6 619.9v-2.5M500.6 352.8v2.5M510.3 619.9v-2.5M510.3 352.8v2.5M518.6 619.9v-2.5M518.6 352.8v2.5M525.7 619.9v-2.5M525.7 352.8v2.5M532 619.9v-2.5M532 352.8v2.5M537.6 619.9v-4.9M537.6 352.8v4.9M46.2 619.9h4.9M537.6 619.9h-4.9M46.2 606.5h2.5M537.6 606.5h-2.5M46.2 598.7h2.5M537.6 598.7h-2.5M46.2 593.1h2.5M537.6 593.1h-2.5M46.2 588.8h2.5M537.6 588.8h-2.5M46.2 585.3h2.5M537.6 585.3h-2.5M46.2 582.3h2.5M537.6 582.3h-2.5M46.2 579.7h2.5M537.6 579.7h-2.5M46.2 577.4h2.5M537.6 577.4h-2.5M46.2 575.4h4.9M537.6 575.4h-4.9M46.2 562h2.5M537.6 562h-2.5M46.2 554.1h2.5M537.6 554.1h-2.5M46.2 548.6h2.5M537.6 548.6h-2.5M46.2 544.3h2.5M537.6 544.3h-2.5M46.2 540.7h2.5M537.6 540.7h-2.5M46.2 537.8h2.5M537.6 537.8h-2.5M46.2 535.2h2.5M537.6 535.2h-2.5M46.2 532.9h2.5M537.6 532.9h-2.5M46.2 530.9h4.9M537.6 530.9h-4.9M46.2 517.5h2.5M537.6 517.5h-2.5M46.2 509.6h2.5M537.6 509.6h-2.5M46.2 504.1h2.5M537.6 504.1h-2.5M46.2 499.8h2.5M537.6 499.8h-2.5M46.2 496.2h2.5M537.6 496.2h-2.5M46.2 493.2h2.5M537.6 493.2h-2.5M46.2 490.7h2.5M537.6 490.7h-2.5M46.2 488.4h2.5M537.6 488.4h-2.5M46.2 486.4h4.9M537.6 486.4h-4.9M46.2 472.9h2.5M537.6 472.9h-2.5M46.2 465.1h2.5M537.6 465.1h-2.5M46.2 459.5h2.5M537.6 459.5h-2.5M46.2 455.2h2.5M537.6 455.2h-2.5M46.2 451.7h2.5M537.6 451.7h-2.5M46.2 448.7h2.5M537.6 448.7h-2.5M46.2 446.1h2.5M537.6 446.1h-2.5M46.2 443.9h2.5M537.6 443.9h-2.5M46.2 441.8h4.9M537.6 441.8h-4.9M46.2 428.4h2.5M537.6 428.4h-2.5M46.2 420.6h2.5M537.6 420.6h-2.5M46.2 415h2.5M537.6 415h-2.5M46.2 410.7h2.5M537.6 410.7h-2.5M46.2 407.2h2.5M537.6 407.2h-2.5M46.2 404.2h2.5M537.6 404.2h-2.5M46.2 401.6h2.5M537.6 401.6h-2.5M46.2 399.4h2.5M537.6 399.4h-2.5M46.2 397.3h4.9M537.6 397.3h-4.9M46.2 383.9h2.5M537.6 383.9h-2.5M46.2 376.1h2.5M537.6 376.1h-2.5M46.2 370.5h2.5M537.6 370.5h-2.5M46.2 366.2h2.5M537.6 366.2h-2.5M46.2 362.7h2.5M537.6 362.7h-2.5M46.2 359.7h2.5M537.6 359.7h-2.5M46.2 357.1h2.5M537.6 357.1h-2.5M46.2 354.8h2.5M537.6 354.8h-2.5M46.2 352.8h4.9M537.6 352.8h-4.9" stroke="#606060" stroke-width="0.8" fill="none"/>
<rect x="46.2" y="352.8" width="491.4" height="267.1" fill="none" stroke="#707070" stroke-width="1"/>
<text x="46.2" y="630.7" text-anchor="middle" class="tk">10<tspan class="sup" dy="-3.4">&#8722;3</tspan></text>
<text x="169.1" y="630.7" text-anchor="middle" class="tk">10<tspan class="sup" dy="-3.4">&#8722;2</tspan></text>
<text x="291.9" y="630.7" text-anchor="middle" class="tk">10<tspan class="sup" dy="-3.4">&#8722;1</tspan></text>
<text x="414.8" y="630.7" text-anchor="middle" class="tk">10<tspan class="sup" dy="-3.4">0</tspan></text>
<text x="537.6" y="630.7" text-anchor="middle" class="tk">10<tspan class="sup" dy="-3.4">1</tspan></text>
<text x="42.8" y="622.6" text-anchor="end" class="tk">10<tspan class="sup" dy="-3.4">&#8722;13</tspan></text>
<text x="42.8" y="578.1" text-anchor="end" class="tk">10<tspan class="sup" dy="-3.4">&#8722;12</tspan></text>
<text x="42.8" y="533.6" text-anchor="end" class="tk">10<tspan class="sup" dy="-3.4">&#8722;11</tspan></text>
<text x="42.8" y="489.1" text-anchor="end" class="tk">10<tspan class="sup" dy="-3.4">&#8722;10</tspan></text>
<text x="42.8" y="444.5" text-anchor="end" class="tk">10<tspan class="sup" dy="-3.4">&#8722;9</tspan></text>
<text x="42.8" y="400" text-anchor="end" class="tk">10<tspan class="sup" dy="-3.4">&#8722;8</tspan></text>
<text x="42.8" y="355.5" text-anchor="end" class="tk">10<tspan class="sup" dy="-3.4">&#8722;7</tspan></text>
<g>
<rect x="434.6" y="15.6" width="102.2" height="23.9" fill="#fff" stroke="#555" stroke-width="0.8"/>
<line x1="435.8" y1="21.6" x2="445.8" y2="21.6" stroke="#6fa7d3" stroke-width="1.3"/>
<line x1="435.8" y1="33.6" x2="445.8" y2="33.6" stroke="#e66a80" stroke-width="1.1" stroke-dasharray="2 1.6"/>
<text x="446.4" y="23.9" class="lt" textLength="79.4" lengthAdjust="spacingAndGlyphs">Interfeometer-orginal</text>
<text x="446.4" y="35.9" class="lt" textLength="88.8" lengthAdjust="spacingAndGlyphs">Interfeometer-smoothed</text>
</g>
<g>
<rect x="432.5" y="355.5" width="102.9" height="24.5" fill="#fff" stroke="#555" stroke-width="0.8"/>
<line x1="433.4" y1="362" x2="443.8" y2="362" stroke="#6fa7d3" stroke-width="1.3"/>
<line x1="433.4" y1="373.6" x2="443.8" y2="373.6" stroke="#e66a80" stroke-width="1.1" stroke-dasharray="2 1.6"/>
<text x="444.6" y="364" class="lt" textLength="79.4" lengthAdjust="spacingAndGlyphs">Interfeometer-orginal</text>
<text x="444.6" y="376" class="lt" textLength="88.8" lengthAdjust="spacingAndGlyphs">Interfeometer-smoothed</text>
</g>
<text x="294.1" y="302.9" text-anchor="middle" class="al" textLength="69.8" lengthAdjust="spacingAndGlyphs">Frequency (Hz)</text>
<text x="291.9" y="643.3" text-anchor="middle" class="al" textLength="69.8" lengthAdjust="spacingAndGlyphs">Frequency (Hz)</text>
<text transform="translate(19.2,147.2) rotate(-90)" text-anchor="middle" class="al yl">Angle (rad/Hz<tspan class="sup2" dy="-4.8">1/2</tspan><tspan dy="4.8">)</tspan></text>
<text transform="translate(16.9,486.8) rotate(-90)" text-anchor="middle" class="al yl">Angle (rad/Hz<tspan class="sup2" dy="-4.8">1/2</tspan><tspan dy="4.8">)</tspan></text>

</svg>
</body></html>
